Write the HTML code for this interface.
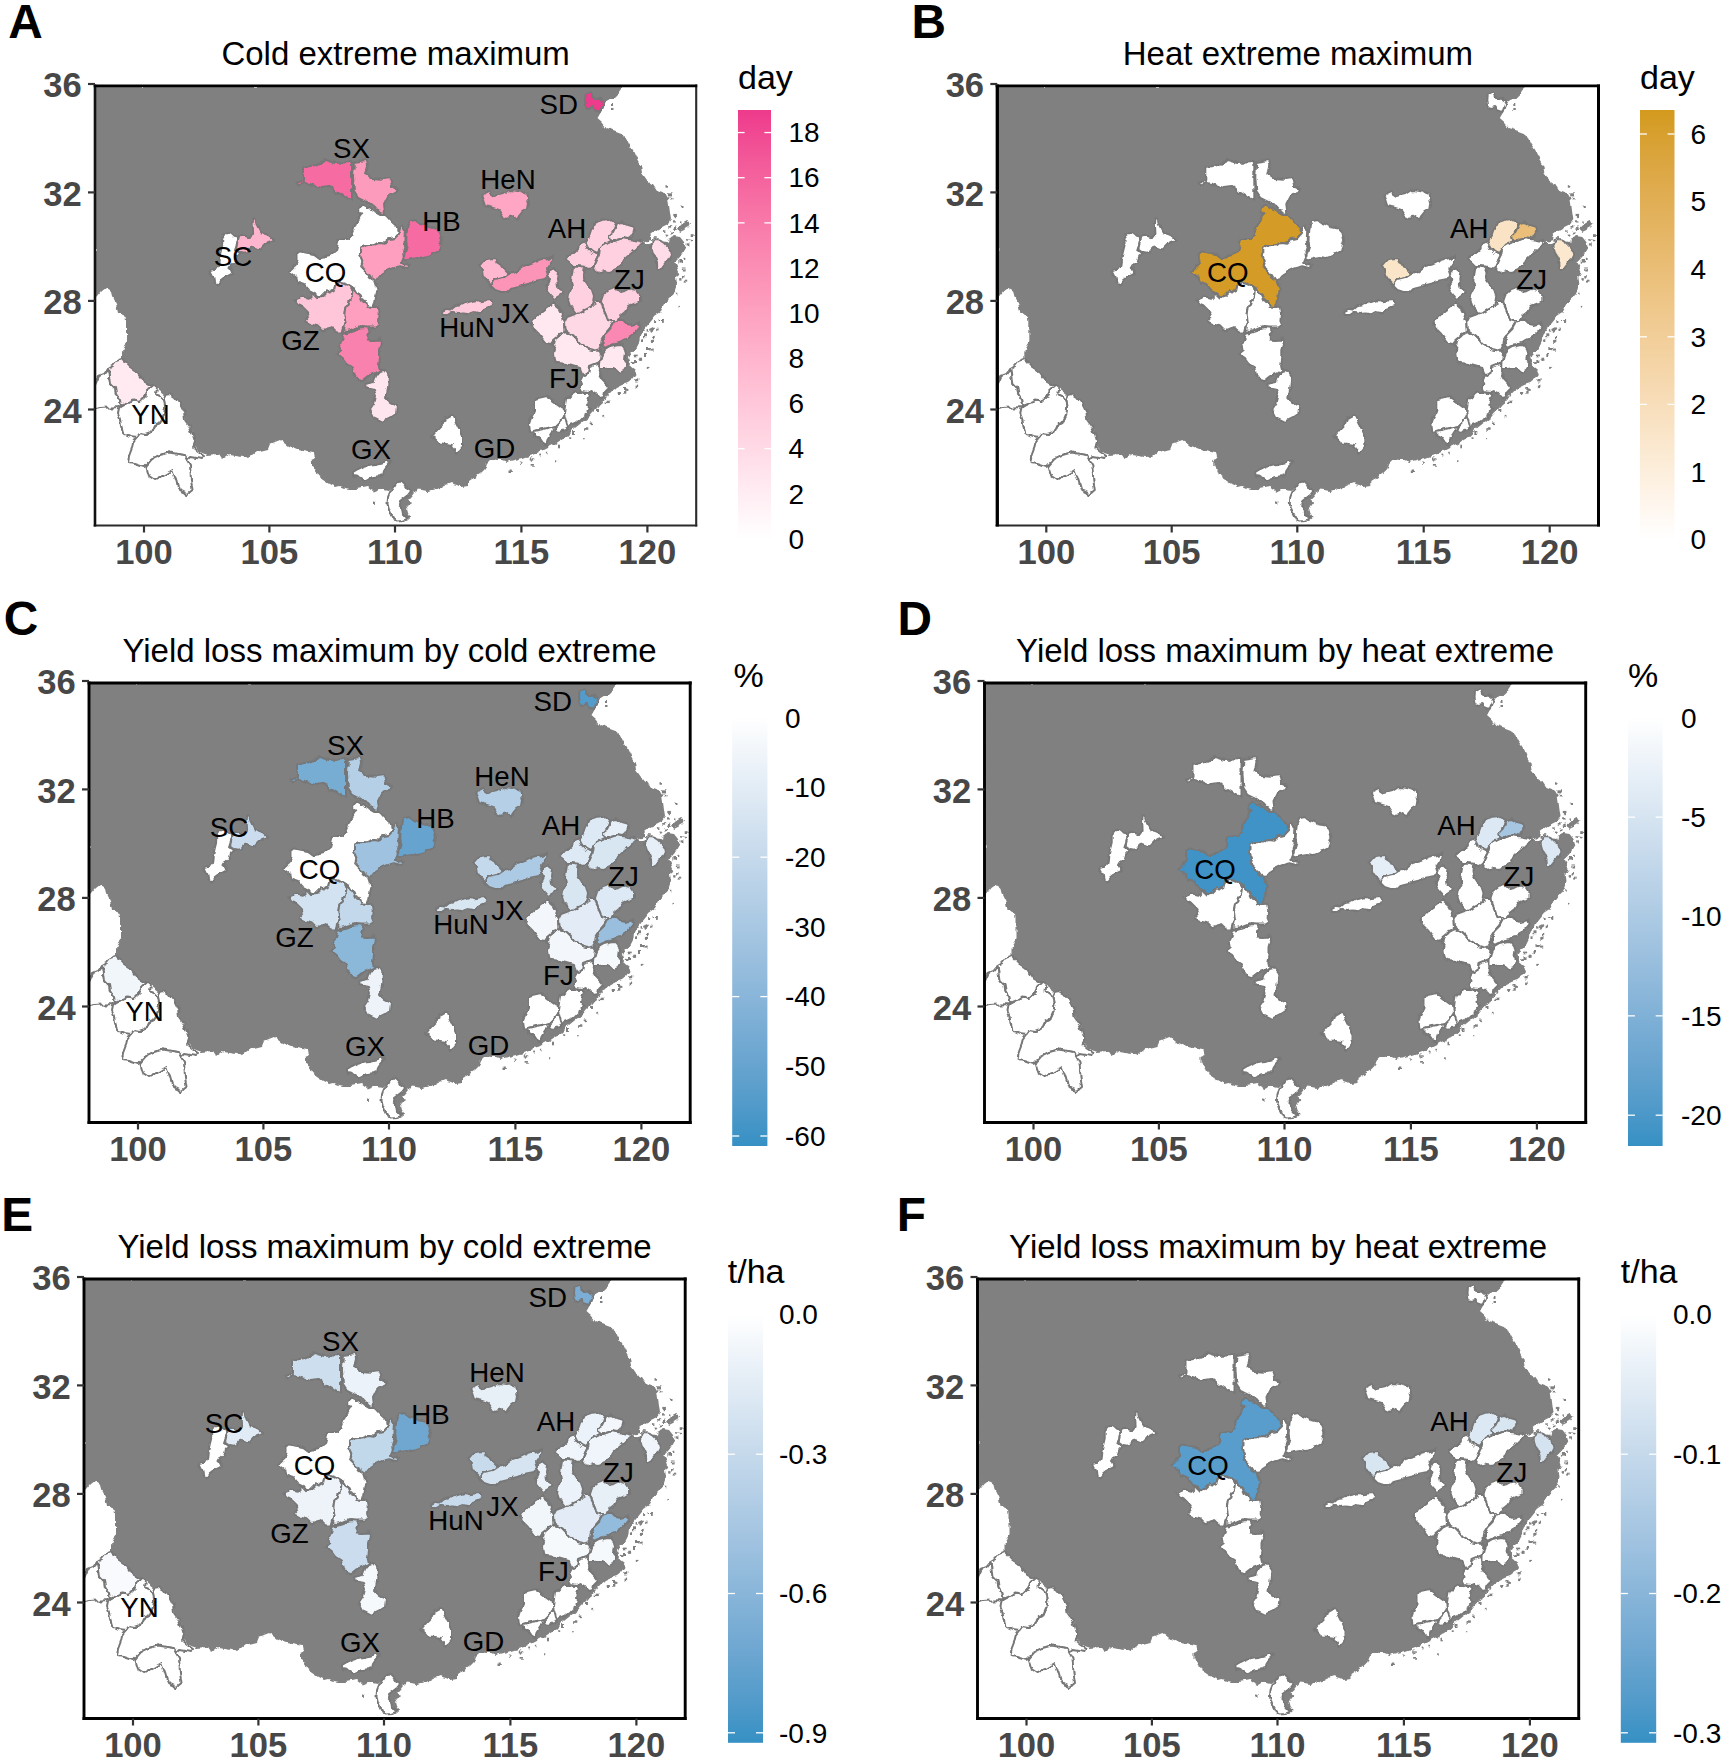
<!DOCTYPE html>
<html lang="en"><head><meta charset="utf-8"><title>Cold and heat extremes and yield loss maps</title>
<style>html,body{margin:0;padding:0;background:#fff}svg{display:block}text{font-family:'Liberation Sans', sans-serif}.ax{font-weight:bold;font-size:34.6px;fill:#474747}.ttl{font-size:33px;fill:#000}.let{font-weight:bold;font-size:47.8px;fill:#000}.lab{font-size:27.7px;fill:#000;text-anchor:middle}.cbt{font-size:34px;fill:#000}.cbl{font-size:28px;fill:#000}.pg polygon{stroke:#777;stroke-width:2;stroke-linejoin:round}</style></head><body>
<svg width="1725" height="1763" viewBox="0 0 1725 1763">
<defs>
<clipPath id="fr"><rect x="95" y="86" width="601.2" height="439.5"/></clipPath>
<g id="base"><polygon fill="#808080" points="95,86 622,86 622,88 617,95 614,98 608,100 604,103 601,112 597.5,118 602,122 607,128 616,131 624,134 628,143 633,150 637,159 641,166 642,173 647,180 653,184 657,190 665,193 668,198 669,205 670,213 671,220 668,224 662,227 656,231 651,235 648,240 644,243 648,243 651,242 656,240 661,240.5 666,242 669,244 670,238 674,236 680,237 684,242 685.5,248 682,254 678,259 675,262 677,266 679,272 676,277 677,284 675,290 672,296 668,300 664,305 661,311 655,315 651,320 647,325 644,330 640,335 639.5,342 636,349 631,353 628,359 630,365 635,369 636.5,374 633,379 628,383 622,385 616,388 612,391 608,395 605,400 602,405 597,408 593,412 589,417 584,421 579,425 574,429 567,436 561,440 555,444 549,447 543,450 535,454 529,456 523,458 515,460 507,462 502,460 496,460 491,459 487,463 485,469 480,474 474,478 468,482 468,486 462,487 458,485 450,483 445,485 440,488 433,490 427,491 422,490 417,489.5 415,492 412,496 409,499 412,502 411,505 408,506 406,509 407,513 409,516 406,517 403,514 402,508 399,505 400,501 404,498 408,495 411,491 408,489 405,484 402,481 399,480.5 396,484 393,488 389,491 384,490 380,490 375,492 371,490 367,487 362,488 357,489 350,489 345,488 340,486 336,487 330,484 318,476 316,470 310,466 310,460 315,458 314,453 298,450 288,446 280,440 270,444 268,449 256,452 248,458 242,456 230,454 222,460 218,454 208,455 202,453 193,447 194,440 192,430 186,420 184,412 176,400 166,396 156,388 150,386 142,382 135,372 129,368 122,360 122,352 126,340 126,322 125.5,316 118,313 116,303 113,297 112,293 110,291 105,288 101,291 97,296 95,298"/>
<polygon fill="#808080" points="678,228 682,224 687,221 691,223 689,227 684,230 680,232"/>
<polygon fill="#808080" points="673,230 675,226 677,230"/>
<polygon fill="#808080" points="686,239 693,240 693,241.5 686,240.5"/>
<polygon fill="#808080" points="373,501 376,502 376,505 373,504"/>
<polygon fill="#808080" points="611,104 613,104 613,106 611,106"/>
<polygon fill="#808080" points="611,108 613.5,108 613.5,110 611,110"/>
<polygon fill="#808080" points="681,261 683,261 683,263 681,263"/>
<polygon fill="#808080" points="682,275 684.5,275 684.5,277.5 682,277.5"/>
<polygon fill="#808080" points="650,329 654,327 655,329 651,332"/>
<polygon fill="#808080" points="641,340 644,339 644,342 641,343"/>
<polygon fill="#808080" points="646,347 649,347 649,350 646,350"/>
<polygon fill="#808080" points="644,353 647,353 647,356 644,356"/>
<polygon fill="#808080" points="634,359 637,359 637,362 634,362"/>
<polygon fill="#808080" points="623,387 626,387 626,390 623,390"/>
<polygon fill="#808080" points="595,410 598,410 598,413 595,413"/>
<polygon fill="#808080" points="573,431 576,431 576,434 573,434"/>
<rect x="665.5" y="185.2" width="2.5" height="2.5" fill="#808080"/>
<rect x="669.2" y="194.5" width="2.1" height="1.6" fill="#808080"/>
<rect x="667.9" y="193.3" width="3.6" height="3.1" fill="#808080"/>
<rect x="669.9" y="197.9" width="2.6" height="1.5" fill="#808080"/>
<rect x="681.0" y="205.7" width="2.5" height="2.6" fill="#808080"/>
<rect x="673.3" y="213.9" width="3.6" height="3.2" fill="#808080"/>
<rect x="674.8" y="216.3" width="1.9" height="1.9" fill="#808080"/>
<rect x="679.0" y="227.8" width="2.3" height="3.1" fill="#808080"/>
<rect x="672.6" y="221.3" width="3.4" height="2.2" fill="#808080"/>
<rect x="670.1" y="231.5" width="3.1" height="1.9" fill="#808080"/>
<rect x="662.9" y="230.4" width="1.6" height="1.5" fill="#808080"/>
<rect x="664.3" y="233.6" width="2.4" height="1.7" fill="#808080"/>
<rect x="665.6" y="234.3" width="1.7" height="2.2" fill="#808080"/>
<rect x="653.4" y="237.2" width="3.3" height="1.8" fill="#808080"/>
<rect x="650.1" y="239.0" width="3.6" height="1.8" fill="#808080"/>
<rect x="643.9" y="233.1" width="2.2" height="2.2" fill="#808080"/>
<rect x="644.3" y="233.8" width="3.3" height="1.7" fill="#808080"/>
<rect x="648.2" y="236.6" width="1.8" height="2.7" fill="#808080"/>
<rect x="642.2" y="227.4" width="3.3" height="2.5" fill="#808080"/>
<rect x="657.2" y="226.7" width="2.7" height="1.9" fill="#808080"/>
<rect x="668.7" y="238.4" width="3.4" height="1.8" fill="#808080"/>
<rect x="664.2" y="241.8" width="2.2" height="2.4" fill="#808080"/>
<rect x="668.2" y="226.2" width="2.9" height="2.5" fill="#808080"/>
<rect x="680.0" y="220.4" width="1.4" height="2.5" fill="#808080"/>
<rect x="690.7" y="233.2" width="2.9" height="2.8" fill="#808080"/>
<rect x="686.6" y="243.3" width="2.8" height="3.2" fill="#808080"/>
<rect x="678.4" y="261.0" width="3.4" height="2.6" fill="#808080"/>
<rect x="683.5" y="257.8" width="1.8" height="2.2" fill="#808080"/>
<rect x="682.9" y="268.5" width="2.7" height="2.0" fill="#808080"/>
<rect x="683.7" y="280.7" width="3.5" height="1.9" fill="#808080"/>
<rect x="679.2" y="277.1" width="2.3" height="2.5" fill="#808080"/>
<rect x="675.8" y="292.7" width="1.5" height="3.0" fill="#808080"/>
<rect x="678.5" y="304.9" width="1.4" height="1.6" fill="#808080"/>
<rect x="662.0" y="319.0" width="2.8" height="2.9" fill="#808080"/>
<rect x="658.7" y="319.6" width="1.8" height="1.4" fill="#808080"/>
<rect x="654.1" y="320.0" width="2.0" height="2.0" fill="#808080"/>
<rect x="656.2" y="328.7" width="2.3" height="2.8" fill="#808080"/>
<rect x="646.6" y="329.1" width="2.4" height="2.5" fill="#808080"/>
<rect x="650.8" y="339.8" width="3.2" height="3.1" fill="#808080"/>
<rect x="643.0" y="334.3" width="3.0" height="2.9" fill="#808080"/>
<rect x="652.1" y="335.9" width="3.6" height="3.2" fill="#808080"/>
<rect x="649.4" y="349.6" width="3.3" height="2.0" fill="#808080"/>
<rect x="639.2" y="359.5" width="2.5" height="1.5" fill="#808080"/>
<rect x="633.6" y="355.6" width="3.1" height="1.7" fill="#808080"/>
<rect x="640.2" y="357.7" width="2.9" height="3.1" fill="#808080"/>
<rect x="631.8" y="361.1" width="2.6" height="1.9" fill="#808080"/>
<rect x="646.8" y="366.9" width="2.6" height="2.0" fill="#808080"/>
<rect x="635.0" y="379.3" width="3.3" height="3.1" fill="#808080"/>
<rect x="635.6" y="384.6" width="2.5" height="2.5" fill="#808080"/>
<rect x="625.2" y="388.5" width="3.2" height="2.4" fill="#808080"/>
<rect x="624.0" y="390.6" width="2.3" height="3.1" fill="#808080"/>
<rect x="617.7" y="392.0" width="3.2" height="3.0" fill="#808080"/>
<rect x="606.7" y="400.7" width="3.1" height="1.4" fill="#808080"/>
<rect x="603.4" y="414.9" width="1.7" height="2.3" fill="#808080"/>
<rect x="589.7" y="422.5" width="2.6" height="1.7" fill="#808080"/>
<rect x="584.0" y="428.3" width="3.3" height="2.5" fill="#808080"/>
<rect x="582.7" y="438.2" width="2.1" height="2.0" fill="#808080"/>
<rect x="569.3" y="436.3" width="1.9" height="2.7" fill="#808080"/>
<rect x="557.0" y="444.7" width="2.3" height="2.6" fill="#808080"/>
<rect x="555.6" y="459.3" width="1.7" height="2.3" fill="#808080"/>
<rect x="545.9" y="451.8" width="1.6" height="1.6" fill="#808080"/>
<rect x="539.2" y="454.6" width="1.8" height="1.8" fill="#808080"/>
<rect x="529.7" y="457.4" width="1.5" height="3.1" fill="#808080"/>
<rect x="530.8" y="459.3" width="2.4" height="2.3" fill="#808080"/>
<rect x="530.6" y="465.0" width="3.3" height="1.7" fill="#808080"/>
<rect x="519.8" y="461.5" width="1.8" height="2.3" fill="#808080"/>
<rect x="509.5" y="470.5" width="3.3" height="2.5" fill="#808080"/>
</g>
<linearGradient id="gA" x1="0" y1="0" x2="0" y2="1"><stop offset="0" stop-color="#ee3a8c"/><stop offset="0.1" stop-color="#f25597"/><stop offset="0.2" stop-color="#f66ca2"/><stop offset="0.3" stop-color="#f981ad"/><stop offset="0.4" stop-color="#fc94b8"/><stop offset="0.5" stop-color="#fea6c4"/><stop offset="0.6" stop-color="#ffb8cf"/><stop offset="0.7" stop-color="#ffcadb"/><stop offset="0.8" stop-color="#ffdce7"/><stop offset="0.9" stop-color="#ffeef3"/><stop offset="1" stop-color="#ffffff"/></linearGradient>
<linearGradient id="gB" x1="0" y1="0" x2="0" y2="1"><stop offset="0" stop-color="#d39a1e"/><stop offset="0.1" stop-color="#daa43b"/><stop offset="0.2" stop-color="#e0ad52"/><stop offset="0.3" stop-color="#e6b768"/><stop offset="0.4" stop-color="#ecc17d"/><stop offset="0.5" stop-color="#f0cb93"/><stop offset="0.6" stop-color="#f5d5a8"/><stop offset="0.7" stop-color="#f8dfbd"/><stop offset="0.8" stop-color="#fbead3"/><stop offset="0.9" stop-color="#fef4e9"/><stop offset="1" stop-color="#ffffff"/></linearGradient>
<linearGradient id="gC" x1="0" y1="0" x2="0" y2="1"><stop offset="0" stop-color="#ffffff"/><stop offset="0.1" stop-color="#edf3f9"/><stop offset="0.2" stop-color="#dce8f3"/><stop offset="0.3" stop-color="#cadced"/><stop offset="0.4" stop-color="#b8d1e7"/><stop offset="0.5" stop-color="#a6c6e2"/><stop offset="0.6" stop-color="#93bbdc"/><stop offset="0.7" stop-color="#7fb0d6"/><stop offset="0.8" stop-color="#6aa5d0"/><stop offset="0.9" stop-color="#539bca"/><stop offset="1" stop-color="#3690c4"/></linearGradient>
<linearGradient id="gD" x1="0" y1="0" x2="0" y2="1"><stop offset="0" stop-color="#ffffff"/><stop offset="0.1" stop-color="#edf3f9"/><stop offset="0.2" stop-color="#dce8f3"/><stop offset="0.3" stop-color="#cadced"/><stop offset="0.4" stop-color="#b8d1e7"/><stop offset="0.5" stop-color="#a6c6e2"/><stop offset="0.6" stop-color="#93bbdc"/><stop offset="0.7" stop-color="#7fb0d6"/><stop offset="0.8" stop-color="#6aa5d0"/><stop offset="0.9" stop-color="#539bca"/><stop offset="1" stop-color="#3690c4"/></linearGradient>
<linearGradient id="gE" x1="0" y1="0" x2="0" y2="1"><stop offset="0" stop-color="#ffffff"/><stop offset="0.1" stop-color="#edf3f9"/><stop offset="0.2" stop-color="#dce8f3"/><stop offset="0.3" stop-color="#cadced"/><stop offset="0.4" stop-color="#b8d1e7"/><stop offset="0.5" stop-color="#a6c6e2"/><stop offset="0.6" stop-color="#93bbdc"/><stop offset="0.7" stop-color="#7fb0d6"/><stop offset="0.8" stop-color="#6aa5d0"/><stop offset="0.9" stop-color="#539bca"/><stop offset="1" stop-color="#3690c4"/></linearGradient>
<linearGradient id="gF" x1="0" y1="0" x2="0" y2="1"><stop offset="0" stop-color="#ffffff"/><stop offset="0.1" stop-color="#edf3f9"/><stop offset="0.2" stop-color="#dce8f3"/><stop offset="0.3" stop-color="#cadced"/><stop offset="0.4" stop-color="#b8d1e7"/><stop offset="0.5" stop-color="#a6c6e2"/><stop offset="0.6" stop-color="#93bbdc"/><stop offset="0.7" stop-color="#7fb0d6"/><stop offset="0.8" stop-color="#6aa5d0"/><stop offset="0.9" stop-color="#539bca"/><stop offset="1" stop-color="#3690c4"/></linearGradient>
<filter id="rough" x="0" y="0" width="100%" height="100%" filterUnits="userSpaceOnUse" primitiveUnits="userSpaceOnUse"><feTurbulence type="fractalNoise" baseFrequency="0.13" numOctaves="2" seed="7" result="n"/><feDisplacementMap in="SourceGraphic" in2="n" scale="5.5" xChannelSelector="R" yChannelSelector="G"/></filter>
</defs>
<rect width="1725" height="1763" fill="#fff"/>
<g transform="translate(0,0)">
<g clip-path="url(#fr)"><g filter="url(#rough)"><use href="#base"/><g class="pg">
<polygon fill="#ffffff" points="108,369 109,375 110,383 115,388 116,394 120,400 121,407 110,407.5 100,408 90,410 80,409 80,385 95,385 99,376 104,374"/>
<polygon fill="#ffffff" points="137,437 140,433 146,434 152,432 155,425 160,423 164,414 165,406 164,400 166,396 170,395 175,398 180,404 184,412 185,420 190,427 193,435 195,442 193,448 198,452 204,456 203,459 196,458 190,457 187,460 184,455 178,454 169,452.5 160,455 152,459 147,464 144,467 135,464 128,463 129,456 132,448 133,442"/>
<polygon fill="#ffffff" points="146,466 152,459 160,455 169,452.5 178,454 184,455 187,460 190,465 191,480 192.5,490 187.5,494 179,490 176,480 172.5,470 162.5,476 155,480 149,476"/>
<polygon fill="#ffffff" points="121,407 128,403 134,400.5 139,402 144.5,397 148,390 152,385 156,388 155,394 160,396 164,400 165,406 164,414 160,423 155,425 152,432 146,434 140,433 137,437 130,436 123,433 121,426 120,419 118,414 119,409"/>
<polygon fill="#ffeaf1" points="122.5,359 130,367 136,371 143,381 150.5,385.2 153,385.5 148,390 144.5,397 139,402 134,400.5 128,403 121,406 120,400 116,394 115,388 110,383 109,375 108,369 113,366 117,361"/>
<polygon fill="#ffffff" points="399,480.5 396,484 393,489 390,492 388,497 387.5,504 389,510 392,516 394,520 397,521.5 402,521 406,519.5 409,517 406,517 403,514 402,508 399,505 400,501 404,498 408,495 411,491 408,489 405,484 402,481"/>
<polygon fill="#ffffff" points="353,472 358,469 364,466 370,464.5 376,464 382,462.5 387,461 391,460.5 389,465 386,468 384,471 383,475 380,476 374,477 369,478.5 365,480.5 362,479 358,476.5 353,476"/>
<polygon fill="#ffffff" points="452,414 455,420 459,428 463,436 463,446 460,450 456,453 454,449 451,445 445,444 438,443 435,440 431,437 437,430 443,424 445,418"/>
<polygon fill="#ffffff" points="538,398 547,396 555,402 563,408 565,414 561,420 555,426 547,428 535,431 530,432 529,424 531,418 535,410 535,402"/>
<polygon fill="#ffffff" points="535,431 547,428 555,426 553,432 549,438 547,446 543,444 539,438 535,436"/>
<polygon fill="#ffffff" points="555,426 561,420 565,415 569,428 565,430 559,432 555,430"/>
<polygon fill="#ffffff" points="566,400 570,396 576,392 582,392 587,393 590,395 588,400 587,405 590,409 588,413 584,416 580,420 576,423 571,425 568,428 566,420 564,413 565,406"/>
<polygon fill="#ffffff" points="588,374 589,367 594,365 599,364 600,369 599,375 602,380 606,384 609,388 605,392 604,397 600,398 596,393 592,391 587,393 582,392 580,388 582,384 580,380 582,376"/>
<polygon fill="#ffe8ef" points="605,350 610,347 616,345.5 622,345 625,349 626,354 625,360 627,365 624,370 620,372 617,369 612,368 605,369 600,369 600,364 601,357 602.5,353"/>
<polygon fill="#ffe8ef" points="553,340 558,336 564,333 568,332 573,335 577,339 580,343 585,346 590,350 596,351.5 601,352 600,358 599,363 594,365 589,367 588,374 585,376 582,373 580,368 573,366 566,364 559,363 555,360 554,354 555,348 552,344"/>
<polygon fill="#ffe8ef" points="531,322 539,314 547,308 554,303 560,308 563,314 562,319 564,323 564.5,329 564,333 558,336 553,340 550,344 546,343 542,338 539,334 535,330"/>
<polygon fill="#ffd8e5" points="567,317 575,314 583,309 591,305 596,302 601,302 603,308 606,315 608,320 614,321.5 610,328 605,334 601,340 600,345 601,350 596,351.5 590,350 585,346 580,343 577,339 573,335 568,332 564.5,329 564,323"/>
<polygon fill="#fb88b2" points="614,321.5 619,320 623,320 627,324 632,325 639,323 640,327 636,332 632,336 627,339 623,340 619,343 614,345 609,346 605,348 602,345 601.5,340 605,334 610,329"/>
<polygon fill="#ffd0df" points="604,294 609,290 615,288 620,292 625,291 630,288.5 636,290 640,296 640,301 635,304 628,307 625,312 620,316 618,320 614,321.5 608,320 606,315 603,308 602,300"/>
<polygon fill="#ffd0df" points="573,267 578,266.5 584,267.5 583,273 584,279 588,285 592,290 594,296 593,302 591,307 585,310 579,314 575,312 570,306 568,300 569,294 572,288 571,280 572,273"/>
<polygon fill="#ffd3e1" points="550,270 555,268 558,273 557,280 558,287 563,290 564,293 559,296 554,299 551,295 547,290 546,286 549,280 548,275"/>
<polygon fill="#ffd0df" points="581,244 585,242 588,248 592,252 596,254 599,254 596,260 594,265 589,268 584,266.5 578,266 573,266 569,262 565,259 570,255 575,252 579,248"/>
<polygon fill="#ffd0df" points="600,249 604,244 610,241 614,241 618,239.5 623,238 628,239 635,240 641,241 643,244 638,247 633,252 628,256 624,260 621,266 616,269 610,272 604,271 599,273 595,270 593,267 596,260 599,254"/>
<polygon fill="#ffd0df" points="596,222 602,220 609,219 616,223 614.5,229 612,234 609,237 610,241 604,244 600,249 596,254 592,252 588,248 585,242 589,236 591,230 594,226"/>
<polygon fill="#ffdae6" points="617,223.5 622,222 627,225 634,227 635,231 632,236 628,239 623,238 618,239.5 614,241 610,241 609,237 612,234 614.5,229"/>
<polygon fill="#ffdce7" points="651,243 655,240 660,240.5 664,243 668,247 671,251 672,255 670,259 666,262 663,266 660,270 657.5,268 657,263 655,258 653,253 651.5,248"/>
<polygon fill="#ffb8cf" points="480,266 485,260 493,259 501,264 505,270 509,274 503,278 495,280 491,286 487,282 483,276 482,270"/>
<polygon fill="#fc94b8" points="491,286 495,280 503,278 509,274 515,272 523,266 531,264 539,260 547,258 553,256 551,262 547,268 549,274 545,280 535,282 527,284 519,286 511,288 507,292 501,292 495,290"/>
<polygon fill="#ffcadb" points="441.9,311.2 446.2,308.8 451.2,309.4 455,306.2 460,305 465,302.5 471.2,301.2 475,300 480,301.2 486.2,300.6 491.2,300 492.5,303.8 490,307.5 485,309.4 480,313.1 475,311.9 470,313.8 463.8,312.5 458.8,313.1 452.5,311.9 447.5,315 442.5,315"/>
<polygon fill="#fea6c4" points="481,196 489,192 495,196 503,194 509,190 519,191 527,194 529,202 528,208 523,211 519,216 517,220 513,216 507,218 503,216 499,210 493,208 485,206 483,200"/>
<polygon fill="#ee3a8c" points="585.5,94.5 590,92 593,94 594,98 600,99 604,102 602,107 600,112 595,110 593,107 589,108 586,107 585,100"/>
<polygon fill="#ffffff" points="225.5,233.3 230.3,232.9 233.6,235.7 236.8,236.5 238,240.6 236.8,245.5 235.2,249.5 238.4,251.9 240.1,253.6 236.8,256.8 235.2,261.7 231.9,264.9 229.5,269 231.9,273.9 227.9,275.9 223.8,277.9 220.6,280.4 217.3,284.8 214.1,282 213.3,277.1 210.4,271.4 214.9,269.8 218.1,264.9 219,258.4 220.6,251.9 222.2,245.5 222.2,239 223.8,234.9"/>
<polygon fill="#ffb5cd" points="238,240.6 239.3,236.5 244.9,235.7 249,237.3 251.8,235.7 253.1,232.5 252.6,224.4 253.1,219.5 255.5,219.5 256.3,223.5 259.5,230 262,233.3 266,234.1 269.3,235.7 274.2,239.8 270.9,240.6 266.9,242.2 263.6,246.3 260.4,249.5 257.1,248.7 253.1,247.1 249.8,247.9 246.6,251.9 243.3,252.8 240.1,251.9 238.4,250.3 236,248.7 236.8,245.5"/>
<polygon fill="#f66ca2" points="297,183 304,180 304,167 316,165 326,160 336,163 352,162 352,200 344,197 336,192 330,187 320,188 310,184 304,183 298,186"/>
<polygon fill="#fd9bbd" points="354,162 367,160 368,166 366,174 372,178 384,179 390,178 392,186 398,189 394,194 388,196 384,204 385,214 380,213 374,206 366,202 358,198 354,192 353,176"/>
<polygon fill="#ffffff" points="361.9,203.8 367.5,206.9 375,211.9 380,215 386.2,215.6 392.5,222.5 398.1,227.5 398.8,233.8 395,238.1 388.8,239.4 383.8,243.8 378.8,243.1 372.5,245.6 366.2,245 360,248.1 360,255 362.5,261.2 361.2,266.2 366.2,271.2 370,277.5 375,281.2 377.5,288.8 376.2,296.2 375,302.5 373.1,308.1 367.5,307.5 366.2,302.5 361.2,300 358.8,295 355,288.8 350,286.2 343.8,283.8 338.8,283.1 335,285 333.8,290 328.8,292.5 326.2,291.2 321.2,296.2 317.5,297.5 313.8,292.5 308.8,290 305,285 297.5,282.5 296.2,277.5 288.8,271.9 293.8,267.5 297.5,260 297.5,251.2 305,252.5 313.8,253.8 318.8,257.5 330,255 336.2,250 338.8,240 348.8,238.8 353.8,227.5 356.2,221.2 361.2,213.8 358.8,210"/>
<polygon fill="#fe9fbf" points="360,248.1 366.2,245 372.5,245.6 378.8,243.1 383.8,243.8 388.8,239.4 395,238.1 398.8,233.8 400.6,227.5 403.1,226.2 405,231.2 404.4,240 405,246.2 403.1,252.5 403.8,257.5 401.9,261.9 405,263.8 410,265.6 407.5,268.1 400,266.2 392.5,268.1 386.2,271.2 380,275 376.2,280 375,281.2 370,277.5 366.2,271.2 361.2,266.2 362.5,261.2 360,255"/>
<polygon fill="#f66ca2" points="410,221.2 415,220 418.8,222.5 423.8,224.4 430,227.5 436.2,228.8 440,232.5 441.9,240 440,246.2 438.8,251.2 433.8,253.8 427.5,256.9 423.8,258.1 417.5,256.9 411.2,258.1 406.2,259.4 403.8,257.5 405,252.5 406.9,246.2 406.2,240 406.9,231.2 407.5,226.2"/>
<polygon fill="#ffc5d8" points="294.4,300 301.2,296.9 308.8,298.8 313.8,293.8 317.5,297.5 321.2,296.2 326.2,291.2 328.8,292.5 333.8,290 335,285 338.8,283.1 343.8,283.8 350,286.2 352.5,290 351.9,296.2 349.4,300 348.8,303.8 345.6,306.2 344.4,315 345.6,322.5 343.8,327.5 342.5,332.5 337.5,332.5 332.5,328.1 327.5,329.4 322.5,331.2 317.5,326.2 311.2,324.4 304.4,321.2 308.8,316.2 306.9,311.2 301.9,306.2 298.8,305"/>
<polygon fill="#fe9fbf" points="352.5,290 355,288.8 358.8,295 361.2,300 366.2,302.5 367.5,307.5 373.1,308.1 377.5,306.2 378.8,313.8 378.1,320 380,324.4 375,327.5 367.5,327.5 361.2,326.9 355,329.4 347.5,331.9 343.8,331.2 345.6,322.5 344.4,315 345.6,306.2 348.8,303.8 349.4,300 351.9,296.2"/>
<polygon fill="#f981ad" points="343.8,333.8 347.5,333.1 355,330.6 361.2,328.1 367.5,328.8 370,331.2 367.5,335 367.5,339.4 373.8,340 380,339.4 381.9,343.8 380,350 380,357.5 378.8,365 380,370 375,373.8 367.5,376.2 361.2,381.2 357.5,380 353.8,375 351.9,367.5 346.2,363.8 342.5,358.8 336.2,355 341.2,351.2 340,343.8 342.5,338.8"/>
<polygon fill="#ffe5ed" points="384,370 389,376 388,388 386,398 390,402 397,406 396,414 390,418 382,422 374,418 370,410 374,404 376,396 374,390 365,388 364,384 374,382 376,376 380,371"/>
</g></g>
<text class="lab" x="558.75" y="114">SD</text>
<text class="lab" x="351.5" y="157.5">SX</text>
<text class="lab" x="508" y="188.5">HeN</text>
<text class="lab" x="441.5" y="231">HB</text>
<text class="lab" x="567" y="237.5">AH</text>
<text class="lab" x="233" y="266">SC</text>
<text class="lab" x="325.5" y="281.5">CQ</text>
<text class="lab" x="629.5" y="288.5">ZJ</text>
<text class="lab" x="300.5" y="350">GZ</text>
<text class="lab" x="467" y="336.5">HuN</text>
<text class="lab" x="513.5" y="322.5">JX</text>
<text class="lab" x="564.5" y="387.5">FJ</text>
<text class="lab" x="150.5" y="423.5">YN</text>
<text class="lab" x="371" y="458.5">GX</text>
<text class="lab" x="494.5" y="457.5">GD</text>
</g>
<line x1="93.7" y1="525.5" x2="697.25" y2="525.5" stroke="#2b2b2b" stroke-width="2.1"/>
<line x1="696.2" y1="84.55" x2="696.2" y2="526.55" stroke="#2b2b2b" stroke-width="2.1"/>
<line x1="95" y1="84.55" x2="95" y2="526.55" stroke="#111" stroke-width="2.6"/>
<line x1="93.7" y1="85.9" x2="697.25" y2="85.9" stroke="#000" stroke-width="2.9"/>
<line x1="88" y1="84" x2="95" y2="84" stroke="#333" stroke-width="2.2"/>
<text class="ax" x="81.8" y="97.2" text-anchor="end">36</text>
<line x1="88" y1="192.4" x2="95" y2="192.4" stroke="#333" stroke-width="2.2"/>
<text class="ax" x="81.8" y="205.6" text-anchor="end">32</text>
<line x1="88" y1="300.9" x2="95" y2="300.9" stroke="#333" stroke-width="2.2"/>
<text class="ax" x="81.8" y="314.1" text-anchor="end">28</text>
<line x1="88" y1="409.5" x2="95" y2="409.5" stroke="#333" stroke-width="2.2"/>
<text class="ax" x="81.8" y="422.7" text-anchor="end">24</text>
<line x1="144" y1="525.5" x2="144" y2="532.5" stroke="#333" stroke-width="2.2"/>
<text class="ax" x="144" y="564" text-anchor="middle">100</text>
<line x1="269.4" y1="525.5" x2="269.4" y2="532.5" stroke="#333" stroke-width="2.2"/>
<text class="ax" x="269.4" y="564" text-anchor="middle">105</text>
<line x1="395" y1="525.5" x2="395" y2="532.5" stroke="#333" stroke-width="2.2"/>
<text class="ax" x="395" y="564" text-anchor="middle">110</text>
<line x1="521.4" y1="525.5" x2="521.4" y2="532.5" stroke="#333" stroke-width="2.2"/>
<text class="ax" x="521.4" y="564" text-anchor="middle">115</text>
<line x1="647.4" y1="525.5" x2="647.4" y2="532.5" stroke="#333" stroke-width="2.2"/>
<text class="ax" x="647.4" y="564" text-anchor="middle">120</text>
</g>
<text class="let" x="8.2" y="37.8">A</text>
<text class="ttl" x="395.6" y="65.2" text-anchor="middle">Cold extreme maximum</text>
<rect x="738" y="110" width="33" height="429" fill="url(#gA)"/>
<text class="cbt" x="738" y="88.9">day</text>
<text class="cbl" x="788.4" y="548.7">0</text>
<text class="cbl" x="788.4" y="503.54">2</text>
<line x1="738" y1="448.68" x2="744.6" y2="448.68" stroke="#fff" stroke-width="1.3"/>
<line x1="764.4" y1="448.68" x2="771" y2="448.68" stroke="#fff" stroke-width="1.3"/>
<text class="cbl" x="788.4" y="458.38">4</text>
<text class="cbl" x="788.4" y="413.22">6</text>
<text class="cbl" x="788.4" y="368.06">8</text>
<text class="cbl" x="788.4" y="322.9">10</text>
<text class="cbl" x="788.4" y="277.74">12</text>
<line x1="738" y1="222.88" x2="744.6" y2="222.88" stroke="#fff" stroke-width="1.3"/>
<line x1="764.4" y1="222.88" x2="771" y2="222.88" stroke="#fff" stroke-width="1.3"/>
<text class="cbl" x="788.4" y="232.58">14</text>
<line x1="738" y1="177.72" x2="744.6" y2="177.72" stroke="#fff" stroke-width="1.3"/>
<line x1="764.4" y1="177.72" x2="771" y2="177.72" stroke="#fff" stroke-width="1.3"/>
<text class="cbl" x="788.4" y="187.42">16</text>
<line x1="738" y1="132.56" x2="744.6" y2="132.56" stroke="#fff" stroke-width="1.3"/>
<line x1="764.4" y1="132.56" x2="771" y2="132.56" stroke="#fff" stroke-width="1.3"/>
<text class="cbl" x="788.4" y="142.26">18</text>
<g transform="translate(902.3,0)">
<g clip-path="url(#fr)"><g filter="url(#rough)"><use href="#base"/><g class="pg">
<polygon fill="#ffffff" points="108,369 109,375 110,383 115,388 116,394 120,400 121,407 110,407.5 100,408 90,410 80,409 80,385 95,385 99,376 104,374"/>
<polygon fill="#ffffff" points="137,437 140,433 146,434 152,432 155,425 160,423 164,414 165,406 164,400 166,396 170,395 175,398 180,404 184,412 185,420 190,427 193,435 195,442 193,448 198,452 204,456 203,459 196,458 190,457 187,460 184,455 178,454 169,452.5 160,455 152,459 147,464 144,467 135,464 128,463 129,456 132,448 133,442"/>
<polygon fill="#ffffff" points="146,466 152,459 160,455 169,452.5 178,454 184,455 187,460 190,465 191,480 192.5,490 187.5,494 179,490 176,480 172.5,470 162.5,476 155,480 149,476"/>
<polygon fill="#ffffff" points="121,407 128,403 134,400.5 139,402 144.5,397 148,390 152,385 156,388 155,394 160,396 164,400 165,406 164,414 160,423 155,425 152,432 146,434 140,433 137,437 130,436 123,433 121,426 120,419 118,414 119,409"/>
<polygon fill="#ffffff" points="122.5,359 130,367 136,371 143,381 150.5,385.2 153,385.5 148,390 144.5,397 139,402 134,400.5 128,403 121,406 120,400 116,394 115,388 110,383 109,375 108,369 113,366 117,361"/>
<polygon fill="#ffffff" points="399,480.5 396,484 393,489 390,492 388,497 387.5,504 389,510 392,516 394,520 397,521.5 402,521 406,519.5 409,517 406,517 403,514 402,508 399,505 400,501 404,498 408,495 411,491 408,489 405,484 402,481"/>
<polygon fill="#ffffff" points="353,472 358,469 364,466 370,464.5 376,464 382,462.5 387,461 391,460.5 389,465 386,468 384,471 383,475 380,476 374,477 369,478.5 365,480.5 362,479 358,476.5 353,476"/>
<polygon fill="#ffffff" points="452,414 455,420 459,428 463,436 463,446 460,450 456,453 454,449 451,445 445,444 438,443 435,440 431,437 437,430 443,424 445,418"/>
<polygon fill="#ffffff" points="538,398 547,396 555,402 563,408 565,414 561,420 555,426 547,428 535,431 530,432 529,424 531,418 535,410 535,402"/>
<polygon fill="#ffffff" points="535,431 547,428 555,426 553,432 549,438 547,446 543,444 539,438 535,436"/>
<polygon fill="#ffffff" points="555,426 561,420 565,415 569,428 565,430 559,432 555,430"/>
<polygon fill="#ffffff" points="566,400 570,396 576,392 582,392 587,393 590,395 588,400 587,405 590,409 588,413 584,416 580,420 576,423 571,425 568,428 566,420 564,413 565,406"/>
<polygon fill="#ffffff" points="588,374 589,367 594,365 599,364 600,369 599,375 602,380 606,384 609,388 605,392 604,397 600,398 596,393 592,391 587,393 582,392 580,388 582,384 580,380 582,376"/>
<polygon fill="#ffffff" points="605,350 610,347 616,345.5 622,345 625,349 626,354 625,360 627,365 624,370 620,372 617,369 612,368 605,369 600,369 600,364 601,357 602.5,353"/>
<polygon fill="#ffffff" points="553,340 558,336 564,333 568,332 573,335 577,339 580,343 585,346 590,350 596,351.5 601,352 600,358 599,363 594,365 589,367 588,374 585,376 582,373 580,368 573,366 566,364 559,363 555,360 554,354 555,348 552,344"/>
<polygon fill="#ffffff" points="531,322 539,314 547,308 554,303 560,308 563,314 562,319 564,323 564.5,329 564,333 558,336 553,340 550,344 546,343 542,338 539,334 535,330"/>
<polygon fill="#ffffff" points="567,317 575,314 583,309 591,305 596,302 601,302 603,308 606,315 608,320 614,321.5 610,328 605,334 601,340 600,345 601,350 596,351.5 590,350 585,346 580,343 577,339 573,335 568,332 564.5,329 564,323"/>
<polygon fill="#ffffff" points="614,321.5 619,320 623,320 627,324 632,325 639,323 640,327 636,332 632,336 627,339 623,340 619,343 614,345 609,346 605,348 602,345 601.5,340 605,334 610,329"/>
<polygon fill="#ffffff" points="604,294 609,290 615,288 620,292 625,291 630,288.5 636,290 640,296 640,301 635,304 628,307 625,312 620,316 618,320 614,321.5 608,320 606,315 603,308 602,300"/>
<polygon fill="#ffffff" points="573,267 578,266.5 584,267.5 583,273 584,279 588,285 592,290 594,296 593,302 591,307 585,310 579,314 575,312 570,306 568,300 569,294 572,288 571,280 572,273"/>
<polygon fill="#ffffff" points="550,270 555,268 558,273 557,280 558,287 563,290 564,293 559,296 554,299 551,295 547,290 546,286 549,280 548,275"/>
<polygon fill="#ffffff" points="581,244 585,242 588,248 592,252 596,254 599,254 596,260 594,265 589,268 584,266.5 578,266 573,266 569,262 565,259 570,255 575,252 579,248"/>
<polygon fill="#ffffff" points="600,249 604,244 610,241 614,241 618,239.5 623,238 628,239 635,240 641,241 643,244 638,247 633,252 628,256 624,260 621,266 616,269 610,272 604,271 599,273 595,270 593,267 596,260 599,254"/>
<polygon fill="#f9e3c4" points="596,222 602,220 609,219 616,223 614.5,229 612,234 609,237 610,241 604,244 600,249 596,254 592,252 588,248 585,242 589,236 591,230 594,226"/>
<polygon fill="#ebbf79" points="617,223.5 622,222 627,225 634,227 635,231 632,236 628,239 623,238 618,239.5 614,241 610,241 609,237 612,234 614.5,229"/>
<polygon fill="#fbe8cf" points="651,243 655,240 660,240.5 664,243 668,247 671,251 672,255 670,259 666,262 663,266 660,270 657.5,268 657,263 655,258 653,253 651.5,248"/>
<polygon fill="#fae5c8" points="480,266 485,260 493,259 501,264 505,270 509,274 503,278 495,280 491,286 487,282 483,276 482,270"/>
<polygon fill="#ffffff" points="491,286 495,280 503,278 509,274 515,272 523,266 531,264 539,260 547,258 553,256 551,262 547,268 549,274 545,280 535,282 527,284 519,286 511,288 507,292 501,292 495,290"/>
<polygon fill="#ffffff" points="441.9,311.2 446.2,308.8 451.2,309.4 455,306.2 460,305 465,302.5 471.2,301.2 475,300 480,301.2 486.2,300.6 491.2,300 492.5,303.8 490,307.5 485,309.4 480,313.1 475,311.9 470,313.8 463.8,312.5 458.8,313.1 452.5,311.9 447.5,315 442.5,315"/>
<polygon fill="#ffffff" points="481,196 489,192 495,196 503,194 509,190 519,191 527,194 529,202 528,208 523,211 519,216 517,220 513,216 507,218 503,216 499,210 493,208 485,206 483,200"/>
<polygon fill="#ffffff" points="585.5,94.5 590,92 593,94 594,98 600,99 604,102 602,107 600,112 595,110 593,107 589,108 586,107 585,100"/>
<polygon fill="#ffffff" points="225.5,233.3 230.3,232.9 233.6,235.7 236.8,236.5 238,240.6 236.8,245.5 235.2,249.5 238.4,251.9 240.1,253.6 236.8,256.8 235.2,261.7 231.9,264.9 229.5,269 231.9,273.9 227.9,275.9 223.8,277.9 220.6,280.4 217.3,284.8 214.1,282 213.3,277.1 210.4,271.4 214.9,269.8 218.1,264.9 219,258.4 220.6,251.9 222.2,245.5 222.2,239 223.8,234.9"/>
<polygon fill="#ffffff" points="238,240.6 239.3,236.5 244.9,235.7 249,237.3 251.8,235.7 253.1,232.5 252.6,224.4 253.1,219.5 255.5,219.5 256.3,223.5 259.5,230 262,233.3 266,234.1 269.3,235.7 274.2,239.8 270.9,240.6 266.9,242.2 263.6,246.3 260.4,249.5 257.1,248.7 253.1,247.1 249.8,247.9 246.6,251.9 243.3,252.8 240.1,251.9 238.4,250.3 236,248.7 236.8,245.5"/>
<polygon fill="#ffffff" points="297,183 304,180 304,167 316,165 326,160 336,163 352,162 352,200 344,197 336,192 330,187 320,188 310,184 304,183 298,186"/>
<polygon fill="#ffffff" points="354,162 367,160 368,166 366,174 372,178 384,179 390,178 392,186 398,189 394,194 388,196 384,204 385,214 380,213 374,206 366,202 358,198 354,192 353,176"/>
<polygon fill="#d49c25" points="361.9,203.8 367.5,206.9 375,211.9 380,215 386.2,215.6 392.5,222.5 398.1,227.5 398.8,233.8 395,238.1 388.8,239.4 383.8,243.8 378.8,243.1 372.5,245.6 366.2,245 360,248.1 360,255 362.5,261.2 361.2,266.2 366.2,271.2 370,277.5 375,281.2 377.5,288.8 376.2,296.2 375,302.5 373.1,308.1 367.5,307.5 366.2,302.5 361.2,300 358.8,295 355,288.8 350,286.2 343.8,283.8 338.8,283.1 335,285 333.8,290 328.8,292.5 326.2,291.2 321.2,296.2 317.5,297.5 313.8,292.5 308.8,290 305,285 297.5,282.5 296.2,277.5 288.8,271.9 293.8,267.5 297.5,260 297.5,251.2 305,252.5 313.8,253.8 318.8,257.5 330,255 336.2,250 338.8,240 348.8,238.8 353.8,227.5 356.2,221.2 361.2,213.8 358.8,210"/>
<polygon fill="#ffffff" points="360,248.1 366.2,245 372.5,245.6 378.8,243.1 383.8,243.8 388.8,239.4 395,238.1 398.8,233.8 400.6,227.5 403.1,226.2 405,231.2 404.4,240 405,246.2 403.1,252.5 403.8,257.5 401.9,261.9 405,263.8 410,265.6 407.5,268.1 400,266.2 392.5,268.1 386.2,271.2 380,275 376.2,280 375,281.2 370,277.5 366.2,271.2 361.2,266.2 362.5,261.2 360,255"/>
<polygon fill="#ffffff" points="410,221.2 415,220 418.8,222.5 423.8,224.4 430,227.5 436.2,228.8 440,232.5 441.9,240 440,246.2 438.8,251.2 433.8,253.8 427.5,256.9 423.8,258.1 417.5,256.9 411.2,258.1 406.2,259.4 403.8,257.5 405,252.5 406.9,246.2 406.2,240 406.9,231.2 407.5,226.2"/>
<polygon fill="#ffffff" points="294.4,300 301.2,296.9 308.8,298.8 313.8,293.8 317.5,297.5 321.2,296.2 326.2,291.2 328.8,292.5 333.8,290 335,285 338.8,283.1 343.8,283.8 350,286.2 352.5,290 351.9,296.2 349.4,300 348.8,303.8 345.6,306.2 344.4,315 345.6,322.5 343.8,327.5 342.5,332.5 337.5,332.5 332.5,328.1 327.5,329.4 322.5,331.2 317.5,326.2 311.2,324.4 304.4,321.2 308.8,316.2 306.9,311.2 301.9,306.2 298.8,305"/>
<polygon fill="#ffffff" points="352.5,290 355,288.8 358.8,295 361.2,300 366.2,302.5 367.5,307.5 373.1,308.1 377.5,306.2 378.8,313.8 378.1,320 380,324.4 375,327.5 367.5,327.5 361.2,326.9 355,329.4 347.5,331.9 343.8,331.2 345.6,322.5 344.4,315 345.6,306.2 348.8,303.8 349.4,300 351.9,296.2"/>
<polygon fill="#ffffff" points="343.8,333.8 347.5,333.1 355,330.6 361.2,328.1 367.5,328.8 370,331.2 367.5,335 367.5,339.4 373.8,340 380,339.4 381.9,343.8 380,350 380,357.5 378.8,365 380,370 375,373.8 367.5,376.2 361.2,381.2 357.5,380 353.8,375 351.9,367.5 346.2,363.8 342.5,358.8 336.2,355 341.2,351.2 340,343.8 342.5,338.8"/>
<polygon fill="#ffffff" points="384,370 389,376 388,388 386,398 390,402 397,406 396,414 390,418 382,422 374,418 370,410 374,404 376,396 374,390 365,388 364,384 374,382 376,376 380,371"/>
</g></g>
<text class="lab" x="325.5" y="281.5">CQ</text>
<text class="lab" x="567" y="237.5">AH</text>
<text class="lab" x="629.5" y="288.5">ZJ</text>
</g>
<line x1="93.35" y1="525.5" x2="697.7" y2="525.5" stroke="#2b2b2b" stroke-width="2.2"/>
<line x1="696.2" y1="84.55" x2="696.2" y2="526.6" stroke="#000" stroke-width="3"/>
<line x1="95" y1="84.55" x2="95" y2="526.6" stroke="#000" stroke-width="3.3"/>
<line x1="93.35" y1="85.9" x2="697.7" y2="85.9" stroke="#000" stroke-width="2.9"/>
<line x1="88" y1="84" x2="95" y2="84" stroke="#333" stroke-width="2.2"/>
<text class="ax" x="81.8" y="97.2" text-anchor="end">36</text>
<line x1="88" y1="192.4" x2="95" y2="192.4" stroke="#333" stroke-width="2.2"/>
<text class="ax" x="81.8" y="205.6" text-anchor="end">32</text>
<line x1="88" y1="300.9" x2="95" y2="300.9" stroke="#333" stroke-width="2.2"/>
<text class="ax" x="81.8" y="314.1" text-anchor="end">28</text>
<line x1="88" y1="409.5" x2="95" y2="409.5" stroke="#333" stroke-width="2.2"/>
<text class="ax" x="81.8" y="422.7" text-anchor="end">24</text>
<line x1="144" y1="525.5" x2="144" y2="532.5" stroke="#333" stroke-width="2.2"/>
<text class="ax" x="144" y="564" text-anchor="middle">100</text>
<line x1="269.4" y1="525.5" x2="269.4" y2="532.5" stroke="#333" stroke-width="2.2"/>
<text class="ax" x="269.4" y="564" text-anchor="middle">105</text>
<line x1="395" y1="525.5" x2="395" y2="532.5" stroke="#333" stroke-width="2.2"/>
<text class="ax" x="395" y="564" text-anchor="middle">110</text>
<line x1="521.4" y1="525.5" x2="521.4" y2="532.5" stroke="#333" stroke-width="2.2"/>
<text class="ax" x="521.4" y="564" text-anchor="middle">115</text>
<line x1="647.4" y1="525.5" x2="647.4" y2="532.5" stroke="#333" stroke-width="2.2"/>
<text class="ax" x="647.4" y="564" text-anchor="middle">120</text>
</g>
<text class="let" x="911.5" y="38">B</text>
<text class="ttl" x="1297.9" y="65.2" text-anchor="middle">Heat extreme maximum</text>
<rect x="1640" y="110" width="34.5" height="429.6" fill="url(#gB)"/>
<text class="cbt" x="1640" y="88.9">day</text>
<text class="cbl" x="1690.5" y="549.3">0</text>
<text class="cbl" x="1690.5" y="481.7">1</text>
<line x1="1640" y1="404.4" x2="1646.9" y2="404.4" stroke="#fff" stroke-width="1.3"/>
<line x1="1667.6" y1="404.4" x2="1674.5" y2="404.4" stroke="#fff" stroke-width="1.3"/>
<text class="cbl" x="1690.5" y="414.1">2</text>
<line x1="1640" y1="336.8" x2="1646.9" y2="336.8" stroke="#fff" stroke-width="1.3"/>
<line x1="1667.6" y1="336.8" x2="1674.5" y2="336.8" stroke="#fff" stroke-width="1.3"/>
<text class="cbl" x="1690.5" y="346.5">3</text>
<text class="cbl" x="1690.5" y="278.9">4</text>
<text class="cbl" x="1690.5" y="211.3">5</text>
<line x1="1640" y1="134" x2="1646.9" y2="134" stroke="#fff" stroke-width="1.3"/>
<line x1="1667.6" y1="134" x2="1674.5" y2="134" stroke="#fff" stroke-width="1.3"/>
<text class="cbl" x="1690.5" y="143.7">6</text>
<g transform="translate(-6,597)">
<g clip-path="url(#fr)"><g filter="url(#rough)"><use href="#base"/><g class="pg">
<polygon fill="#ffffff" points="108,369 109,375 110,383 115,388 116,394 120,400 121,407 110,407.5 100,408 90,410 80,409 80,385 95,385 99,376 104,374"/>
<polygon fill="#ffffff" points="137,437 140,433 146,434 152,432 155,425 160,423 164,414 165,406 164,400 166,396 170,395 175,398 180,404 184,412 185,420 190,427 193,435 195,442 193,448 198,452 204,456 203,459 196,458 190,457 187,460 184,455 178,454 169,452.5 160,455 152,459 147,464 144,467 135,464 128,463 129,456 132,448 133,442"/>
<polygon fill="#ffffff" points="146,466 152,459 160,455 169,452.5 178,454 184,455 187,460 190,465 191,480 192.5,490 187.5,494 179,490 176,480 172.5,470 162.5,476 155,480 149,476"/>
<polygon fill="#ffffff" points="121,407 128,403 134,400.5 139,402 144.5,397 148,390 152,385 156,388 155,394 160,396 164,400 165,406 164,414 160,423 155,425 152,432 146,434 140,433 137,437 130,436 123,433 121,426 120,419 118,414 119,409"/>
<polygon fill="#f1f6fa" points="122.5,359 130,367 136,371 143,381 150.5,385.2 153,385.5 148,390 144.5,397 139,402 134,400.5 128,403 121,406 120,400 116,394 115,388 110,383 109,375 108,369 113,366 117,361"/>
<polygon fill="#ffffff" points="399,480.5 396,484 393,489 390,492 388,497 387.5,504 389,510 392,516 394,520 397,521.5 402,521 406,519.5 409,517 406,517 403,514 402,508 399,505 400,501 404,498 408,495 411,491 408,489 405,484 402,481"/>
<polygon fill="#ffffff" points="353,472 358,469 364,466 370,464.5 376,464 382,462.5 387,461 391,460.5 389,465 386,468 384,471 383,475 380,476 374,477 369,478.5 365,480.5 362,479 358,476.5 353,476"/>
<polygon fill="#ffffff" points="452,414 455,420 459,428 463,436 463,446 460,450 456,453 454,449 451,445 445,444 438,443 435,440 431,437 437,430 443,424 445,418"/>
<polygon fill="#ffffff" points="538,398 547,396 555,402 563,408 565,414 561,420 555,426 547,428 535,431 530,432 529,424 531,418 535,410 535,402"/>
<polygon fill="#ffffff" points="535,431 547,428 555,426 553,432 549,438 547,446 543,444 539,438 535,436"/>
<polygon fill="#ffffff" points="555,426 561,420 565,415 569,428 565,430 559,432 555,430"/>
<polygon fill="#ffffff" points="566,400 570,396 576,392 582,392 587,393 590,395 588,400 587,405 590,409 588,413 584,416 580,420 576,423 571,425 568,428 566,420 564,413 565,406"/>
<polygon fill="#ffffff" points="588,374 589,367 594,365 599,364 600,369 599,375 602,380 606,384 609,388 605,392 604,397 600,398 596,393 592,391 587,393 582,392 580,388 582,384 580,380 582,376"/>
<polygon fill="#f6f9fc" points="605,350 610,347 616,345.5 622,345 625,349 626,354 625,360 627,365 624,370 620,372 617,369 612,368 605,369 600,369 600,364 601,357 602.5,353"/>
<polygon fill="#f3f7fb" points="553,340 558,336 564,333 568,332 573,335 577,339 580,343 585,346 590,350 596,351.5 601,352 600,358 599,363 594,365 589,367 588,374 585,376 582,373 580,368 573,366 566,364 559,363 555,360 554,354 555,348 552,344"/>
<polygon fill="#f3f7fb" points="531,322 539,314 547,308 554,303 560,308 563,314 562,319 564,323 564.5,329 564,333 558,336 553,340 550,344 546,343 542,338 539,334 535,330"/>
<polygon fill="#e3ecf6" points="567,317 575,314 583,309 591,305 596,302 601,302 603,308 606,315 608,320 614,321.5 610,328 605,334 601,340 600,345 601,350 596,351.5 590,350 585,346 580,343 577,339 573,335 568,332 564.5,329 564,323"/>
<polygon fill="#9abfde" points="614,321.5 619,320 623,320 627,324 632,325 639,323 640,327 636,332 632,336 627,339 623,340 619,343 614,345 609,346 605,348 602,345 601.5,340 605,334 610,329"/>
<polygon fill="#dde9f4" points="604,294 609,290 615,288 620,292 625,291 630,288.5 636,290 640,296 640,301 635,304 628,307 625,312 620,316 618,320 614,321.5 608,320 606,315 603,308 602,300"/>
<polygon fill="#d8e6f2" points="573,267 578,266.5 584,267.5 583,273 584,279 588,285 592,290 594,296 593,302 591,307 585,310 579,314 575,312 570,306 568,300 569,294 572,288 571,280 572,273"/>
<polygon fill="#d8e6f2" points="550,270 555,268 558,273 557,280 558,287 563,290 564,293 559,296 554,299 551,295 547,290 546,286 549,280 548,275"/>
<polygon fill="#dde9f4" points="581,244 585,242 588,248 592,252 596,254 599,254 596,260 594,265 589,268 584,266.5 578,266 573,266 569,262 565,259 570,255 575,252 579,248"/>
<polygon fill="#d8e6f2" points="600,249 604,244 610,241 614,241 618,239.5 623,238 628,239 635,240 641,241 643,244 638,247 633,252 628,256 624,260 621,266 616,269 610,272 604,271 599,273 595,270 593,267 596,260 599,254"/>
<polygon fill="#dde9f4" points="596,222 602,220 609,219 616,223 614.5,229 612,234 609,237 610,241 604,244 600,249 596,254 592,252 588,248 585,242 589,236 591,230 594,226"/>
<polygon fill="#e6eff7" points="617,223.5 622,222 627,225 634,227 635,231 632,236 628,239 623,238 618,239.5 614,241 610,241 609,237 612,234 614.5,229"/>
<polygon fill="#e6eff7" points="651,243 655,240 660,240.5 664,243 668,247 671,251 672,255 670,259 666,262 663,266 660,270 657.5,268 657,263 655,258 653,253 651.5,248"/>
<polygon fill="#c4d9ec" points="480,266 485,260 493,259 501,264 505,270 509,274 503,278 495,280 491,286 487,282 483,276 482,270"/>
<polygon fill="#adcae4" points="491,286 495,280 503,278 509,274 515,272 523,266 531,264 539,260 547,258 553,256 551,262 547,268 549,274 545,280 535,282 527,284 519,286 511,288 507,292 501,292 495,290"/>
<polygon fill="#d8e6f2" points="441.9,311.2 446.2,308.8 451.2,309.4 455,306.2 460,305 465,302.5 471.2,301.2 475,300 480,301.2 486.2,300.6 491.2,300 492.5,303.8 490,307.5 485,309.4 480,313.1 475,311.9 470,313.8 463.8,312.5 458.8,313.1 452.5,311.9 447.5,315 442.5,315"/>
<polygon fill="#b4cfe6" points="481,196 489,192 495,196 503,194 509,190 519,191 527,194 529,202 528,208 523,211 519,216 517,220 513,216 507,218 503,216 499,210 493,208 485,206 483,200"/>
<polygon fill="#539bca" points="585.5,94.5 590,92 593,94 594,98 600,99 604,102 602,107 600,112 595,110 593,107 589,108 586,107 585,100"/>
<polygon fill="#ffffff" points="225.5,233.3 230.3,232.9 233.6,235.7 236.8,236.5 238,240.6 236.8,245.5 235.2,249.5 238.4,251.9 240.1,253.6 236.8,256.8 235.2,261.7 231.9,264.9 229.5,269 231.9,273.9 227.9,275.9 223.8,277.9 220.6,280.4 217.3,284.8 214.1,282 213.3,277.1 210.4,271.4 214.9,269.8 218.1,264.9 219,258.4 220.6,251.9 222.2,245.5 222.2,239 223.8,234.9"/>
<polygon fill="#cadced" points="238,240.6 239.3,236.5 244.9,235.7 249,237.3 251.8,235.7 253.1,232.5 252.6,224.4 253.1,219.5 255.5,219.5 256.3,223.5 259.5,230 262,233.3 266,234.1 269.3,235.7 274.2,239.8 270.9,240.6 266.9,242.2 263.6,246.3 260.4,249.5 257.1,248.7 253.1,247.1 249.8,247.9 246.6,251.9 243.3,252.8 240.1,251.9 238.4,250.3 236,248.7 236.8,245.5"/>
<polygon fill="#77acd3" points="297,183 304,180 304,167 316,165 326,160 336,163 352,162 352,200 344,197 336,192 330,187 320,188 310,184 304,183 298,186"/>
<polygon fill="#b4cfe6" points="354,162 367,160 368,166 366,174 372,178 384,179 390,178 392,186 398,189 394,194 388,196 384,204 385,214 380,213 374,206 366,202 358,198 354,192 353,176"/>
<polygon fill="#ffffff" points="361.9,203.8 367.5,206.9 375,211.9 380,215 386.2,215.6 392.5,222.5 398.1,227.5 398.8,233.8 395,238.1 388.8,239.4 383.8,243.8 378.8,243.1 372.5,245.6 366.2,245 360,248.1 360,255 362.5,261.2 361.2,266.2 366.2,271.2 370,277.5 375,281.2 377.5,288.8 376.2,296.2 375,302.5 373.1,308.1 367.5,307.5 366.2,302.5 361.2,300 358.8,295 355,288.8 350,286.2 343.8,283.8 338.8,283.1 335,285 333.8,290 328.8,292.5 326.2,291.2 321.2,296.2 317.5,297.5 313.8,292.5 308.8,290 305,285 297.5,282.5 296.2,277.5 288.8,271.9 293.8,267.5 297.5,260 297.5,251.2 305,252.5 313.8,253.8 318.8,257.5 330,255 336.2,250 338.8,240 348.8,238.8 353.8,227.5 356.2,221.2 361.2,213.8 358.8,210"/>
<polygon fill="#9ec2df" points="360,248.1 366.2,245 372.5,245.6 378.8,243.1 383.8,243.8 388.8,239.4 395,238.1 398.8,233.8 400.6,227.5 403.1,226.2 405,231.2 404.4,240 405,246.2 403.1,252.5 403.8,257.5 401.9,261.9 405,263.8 410,265.6 407.5,268.1 400,266.2 392.5,268.1 386.2,271.2 380,275 376.2,280 375,281.2 370,277.5 366.2,271.2 361.2,266.2 362.5,261.2 360,255"/>
<polygon fill="#66a3cf" points="410,221.2 415,220 418.8,222.5 423.8,224.4 430,227.5 436.2,228.8 440,232.5 441.9,240 440,246.2 438.8,251.2 433.8,253.8 427.5,256.9 423.8,258.1 417.5,256.9 411.2,258.1 406.2,259.4 403.8,257.5 405,252.5 406.9,246.2 406.2,240 406.9,231.2 407.5,226.2"/>
<polygon fill="#d3e2f0" points="294.4,300 301.2,296.9 308.8,298.8 313.8,293.8 317.5,297.5 321.2,296.2 326.2,291.2 328.8,292.5 333.8,290 335,285 338.8,283.1 343.8,283.8 350,286.2 352.5,290 351.9,296.2 349.4,300 348.8,303.8 345.6,306.2 344.4,315 345.6,322.5 343.8,327.5 342.5,332.5 337.5,332.5 332.5,328.1 327.5,329.4 322.5,331.2 317.5,326.2 311.2,324.4 304.4,321.2 308.8,316.2 306.9,311.2 301.9,306.2 298.8,305"/>
<polygon fill="#c3d8eb" points="352.5,290 355,288.8 358.8,295 361.2,300 366.2,302.5 367.5,307.5 373.1,308.1 377.5,306.2 378.8,313.8 378.1,320 380,324.4 375,327.5 367.5,327.5 361.2,326.9 355,329.4 347.5,331.9 343.8,331.2 345.6,322.5 344.4,315 345.6,306.2 348.8,303.8 349.4,300 351.9,296.2"/>
<polygon fill="#8bb7d9" points="343.8,333.8 347.5,333.1 355,330.6 361.2,328.1 367.5,328.8 370,331.2 367.5,335 367.5,339.4 373.8,340 380,339.4 381.9,343.8 380,350 380,357.5 378.8,365 380,370 375,373.8 367.5,376.2 361.2,381.2 357.5,380 353.8,375 351.9,367.5 346.2,363.8 342.5,358.8 336.2,355 341.2,351.2 340,343.8 342.5,338.8"/>
<polygon fill="#edf3f9" points="384,370 389,376 388,388 386,398 390,402 397,406 396,414 390,418 382,422 374,418 370,410 374,404 376,396 374,390 365,388 364,384 374,382 376,376 380,371"/>
</g></g>
<text class="lab" x="558.75" y="114">SD</text>
<text class="lab" x="351.5" y="157.5">SX</text>
<text class="lab" x="508" y="188.5">HeN</text>
<text class="lab" x="441.5" y="231">HB</text>
<text class="lab" x="567" y="237.5">AH</text>
<text class="lab" x="235" y="239.5">SC</text>
<text class="lab" x="325.5" y="281.5">CQ</text>
<text class="lab" x="629.5" y="288.5">ZJ</text>
<text class="lab" x="300.5" y="350">GZ</text>
<text class="lab" x="467" y="336.5">HuN</text>
<text class="lab" x="513.5" y="322.5">JX</text>
<text class="lab" x="564.5" y="387.5">FJ</text>
<text class="lab" x="150.5" y="423.5">YN</text>
<text class="lab" x="371" y="458.5">GX</text>
<text class="lab" x="494.5" y="457.5">GD</text>
</g>
<line x1="93.55" y1="525.5" x2="697.65" y2="525.5" stroke="#000" stroke-width="2.8"/>
<line x1="696.2" y1="84.5" x2="696.2" y2="526.9" stroke="#000" stroke-width="2.9"/>
<line x1="95" y1="84.5" x2="95" y2="526.9" stroke="#000" stroke-width="2.9"/>
<line x1="93.55" y1="85.9" x2="697.65" y2="85.9" stroke="#000" stroke-width="3"/>
<line x1="88" y1="84" x2="95" y2="84" stroke="#333" stroke-width="2.2"/>
<text class="ax" x="81.8" y="97.2" text-anchor="end">36</text>
<line x1="88" y1="192.4" x2="95" y2="192.4" stroke="#333" stroke-width="2.2"/>
<text class="ax" x="81.8" y="205.6" text-anchor="end">32</text>
<line x1="88" y1="300.9" x2="95" y2="300.9" stroke="#333" stroke-width="2.2"/>
<text class="ax" x="81.8" y="314.1" text-anchor="end">28</text>
<line x1="88" y1="409.5" x2="95" y2="409.5" stroke="#333" stroke-width="2.2"/>
<text class="ax" x="81.8" y="422.7" text-anchor="end">24</text>
<line x1="144" y1="525.5" x2="144" y2="532.5" stroke="#333" stroke-width="2.2"/>
<text class="ax" x="144" y="564" text-anchor="middle">100</text>
<line x1="269.4" y1="525.5" x2="269.4" y2="532.5" stroke="#333" stroke-width="2.2"/>
<text class="ax" x="269.4" y="564" text-anchor="middle">105</text>
<line x1="395" y1="525.5" x2="395" y2="532.5" stroke="#333" stroke-width="2.2"/>
<text class="ax" x="395" y="564" text-anchor="middle">110</text>
<line x1="521.4" y1="525.5" x2="521.4" y2="532.5" stroke="#333" stroke-width="2.2"/>
<text class="ax" x="521.4" y="564" text-anchor="middle">115</text>
<line x1="647.4" y1="525.5" x2="647.4" y2="532.5" stroke="#333" stroke-width="2.2"/>
<text class="ax" x="647.4" y="564" text-anchor="middle">120</text>
</g>
<text class="let" x="3.8" y="634.8">C</text>
<text class="ttl" x="389.6" y="662.2" text-anchor="middle">Yield loss maximum by cold extreme</text>
<rect x="732.2" y="717.8" width="35.2" height="428.2" fill="url(#gC)"/>
<text class="cbt" x="733.4" y="686.8">%</text>
<text class="cbl" x="785" y="727.5">0</text>
<text class="cbl" x="785" y="797.2">-10</text>
<line x1="732.2" y1="857.2" x2="739.24" y2="857.2" stroke="#fff" stroke-width="1.3"/>
<line x1="760.36" y1="857.2" x2="767.4" y2="857.2" stroke="#fff" stroke-width="1.3"/>
<text class="cbl" x="785" y="866.9">-20</text>
<text class="cbl" x="785" y="936.6">-30</text>
<line x1="732.2" y1="996.6" x2="739.24" y2="996.6" stroke="#fff" stroke-width="1.3"/>
<line x1="760.36" y1="996.6" x2="767.4" y2="996.6" stroke="#fff" stroke-width="1.3"/>
<text class="cbl" x="785" y="1006.3">-40</text>
<text class="cbl" x="785" y="1076">-50</text>
<line x1="732.2" y1="1136" x2="739.24" y2="1136" stroke="#fff" stroke-width="1.3"/>
<line x1="760.36" y1="1136" x2="767.4" y2="1136" stroke="#fff" stroke-width="1.3"/>
<text class="cbl" x="785" y="1145.7">-60</text>
<g transform="translate(889.5,597)">
<g clip-path="url(#fr)"><g filter="url(#rough)"><use href="#base"/><g class="pg">
<polygon fill="#ffffff" points="108,369 109,375 110,383 115,388 116,394 120,400 121,407 110,407.5 100,408 90,410 80,409 80,385 95,385 99,376 104,374"/>
<polygon fill="#ffffff" points="137,437 140,433 146,434 152,432 155,425 160,423 164,414 165,406 164,400 166,396 170,395 175,398 180,404 184,412 185,420 190,427 193,435 195,442 193,448 198,452 204,456 203,459 196,458 190,457 187,460 184,455 178,454 169,452.5 160,455 152,459 147,464 144,467 135,464 128,463 129,456 132,448 133,442"/>
<polygon fill="#ffffff" points="146,466 152,459 160,455 169,452.5 178,454 184,455 187,460 190,465 191,480 192.5,490 187.5,494 179,490 176,480 172.5,470 162.5,476 155,480 149,476"/>
<polygon fill="#ffffff" points="121,407 128,403 134,400.5 139,402 144.5,397 148,390 152,385 156,388 155,394 160,396 164,400 165,406 164,414 160,423 155,425 152,432 146,434 140,433 137,437 130,436 123,433 121,426 120,419 118,414 119,409"/>
<polygon fill="#ffffff" points="122.5,359 130,367 136,371 143,381 150.5,385.2 153,385.5 148,390 144.5,397 139,402 134,400.5 128,403 121,406 120,400 116,394 115,388 110,383 109,375 108,369 113,366 117,361"/>
<polygon fill="#ffffff" points="399,480.5 396,484 393,489 390,492 388,497 387.5,504 389,510 392,516 394,520 397,521.5 402,521 406,519.5 409,517 406,517 403,514 402,508 399,505 400,501 404,498 408,495 411,491 408,489 405,484 402,481"/>
<polygon fill="#ffffff" points="353,472 358,469 364,466 370,464.5 376,464 382,462.5 387,461 391,460.5 389,465 386,468 384,471 383,475 380,476 374,477 369,478.5 365,480.5 362,479 358,476.5 353,476"/>
<polygon fill="#ffffff" points="452,414 455,420 459,428 463,436 463,446 460,450 456,453 454,449 451,445 445,444 438,443 435,440 431,437 437,430 443,424 445,418"/>
<polygon fill="#ffffff" points="538,398 547,396 555,402 563,408 565,414 561,420 555,426 547,428 535,431 530,432 529,424 531,418 535,410 535,402"/>
<polygon fill="#ffffff" points="535,431 547,428 555,426 553,432 549,438 547,446 543,444 539,438 535,436"/>
<polygon fill="#ffffff" points="555,426 561,420 565,415 569,428 565,430 559,432 555,430"/>
<polygon fill="#ffffff" points="566,400 570,396 576,392 582,392 587,393 590,395 588,400 587,405 590,409 588,413 584,416 580,420 576,423 571,425 568,428 566,420 564,413 565,406"/>
<polygon fill="#ffffff" points="588,374 589,367 594,365 599,364 600,369 599,375 602,380 606,384 609,388 605,392 604,397 600,398 596,393 592,391 587,393 582,392 580,388 582,384 580,380 582,376"/>
<polygon fill="#ffffff" points="605,350 610,347 616,345.5 622,345 625,349 626,354 625,360 627,365 624,370 620,372 617,369 612,368 605,369 600,369 600,364 601,357 602.5,353"/>
<polygon fill="#ffffff" points="553,340 558,336 564,333 568,332 573,335 577,339 580,343 585,346 590,350 596,351.5 601,352 600,358 599,363 594,365 589,367 588,374 585,376 582,373 580,368 573,366 566,364 559,363 555,360 554,354 555,348 552,344"/>
<polygon fill="#ffffff" points="531,322 539,314 547,308 554,303 560,308 563,314 562,319 564,323 564.5,329 564,333 558,336 553,340 550,344 546,343 542,338 539,334 535,330"/>
<polygon fill="#ffffff" points="567,317 575,314 583,309 591,305 596,302 601,302 603,308 606,315 608,320 614,321.5 610,328 605,334 601,340 600,345 601,350 596,351.5 590,350 585,346 580,343 577,339 573,335 568,332 564.5,329 564,323"/>
<polygon fill="#ffffff" points="614,321.5 619,320 623,320 627,324 632,325 639,323 640,327 636,332 632,336 627,339 623,340 619,343 614,345 609,346 605,348 602,345 601.5,340 605,334 610,329"/>
<polygon fill="#ffffff" points="604,294 609,290 615,288 620,292 625,291 630,288.5 636,290 640,296 640,301 635,304 628,307 625,312 620,316 618,320 614,321.5 608,320 606,315 603,308 602,300"/>
<polygon fill="#ffffff" points="573,267 578,266.5 584,267.5 583,273 584,279 588,285 592,290 594,296 593,302 591,307 585,310 579,314 575,312 570,306 568,300 569,294 572,288 571,280 572,273"/>
<polygon fill="#ffffff" points="550,270 555,268 558,273 557,280 558,287 563,290 564,293 559,296 554,299 551,295 547,290 546,286 549,280 548,275"/>
<polygon fill="#ffffff" points="581,244 585,242 588,248 592,252 596,254 599,254 596,260 594,265 589,268 584,266.5 578,266 573,266 569,262 565,259 570,255 575,252 579,248"/>
<polygon fill="#ffffff" points="600,249 604,244 610,241 614,241 618,239.5 623,238 628,239 635,240 641,241 643,244 638,247 633,252 628,256 624,260 621,266 616,269 610,272 604,271 599,273 595,270 593,267 596,260 599,254"/>
<polygon fill="#dce8f3" points="596,222 602,220 609,219 616,223 614.5,229 612,234 609,237 610,241 604,244 600,249 596,254 592,252 588,248 585,242 589,236 591,230 594,226"/>
<polygon fill="#a6c6e2" points="617,223.5 622,222 627,225 634,227 635,231 632,236 628,239 623,238 618,239.5 614,241 610,241 609,237 612,234 614.5,229"/>
<polygon fill="#dce8f3" points="651,243 655,240 660,240.5 664,243 668,247 671,251 672,255 670,259 666,262 663,266 660,270 657.5,268 657,263 655,258 653,253 651.5,248"/>
<polygon fill="#e5eef6" points="480,266 485,260 493,259 501,264 505,270 509,274 503,278 495,280 491,286 487,282 483,276 482,270"/>
<polygon fill="#ffffff" points="491,286 495,280 503,278 509,274 515,272 523,266 531,264 539,260 547,258 553,256 551,262 547,268 549,274 545,280 535,282 527,284 519,286 511,288 507,292 501,292 495,290"/>
<polygon fill="#ffffff" points="441.9,311.2 446.2,308.8 451.2,309.4 455,306.2 460,305 465,302.5 471.2,301.2 475,300 480,301.2 486.2,300.6 491.2,300 492.5,303.8 490,307.5 485,309.4 480,313.1 475,311.9 470,313.8 463.8,312.5 458.8,313.1 452.5,311.9 447.5,315 442.5,315"/>
<polygon fill="#ffffff" points="481,196 489,192 495,196 503,194 509,190 519,191 527,194 529,202 528,208 523,211 519,216 517,220 513,216 507,218 503,216 499,210 493,208 485,206 483,200"/>
<polygon fill="#ffffff" points="585.5,94.5 590,92 593,94 594,98 600,99 604,102 602,107 600,112 595,110 593,107 589,108 586,107 585,100"/>
<polygon fill="#ffffff" points="225.5,233.3 230.3,232.9 233.6,235.7 236.8,236.5 238,240.6 236.8,245.5 235.2,249.5 238.4,251.9 240.1,253.6 236.8,256.8 235.2,261.7 231.9,264.9 229.5,269 231.9,273.9 227.9,275.9 223.8,277.9 220.6,280.4 217.3,284.8 214.1,282 213.3,277.1 210.4,271.4 214.9,269.8 218.1,264.9 219,258.4 220.6,251.9 222.2,245.5 222.2,239 223.8,234.9"/>
<polygon fill="#ffffff" points="238,240.6 239.3,236.5 244.9,235.7 249,237.3 251.8,235.7 253.1,232.5 252.6,224.4 253.1,219.5 255.5,219.5 256.3,223.5 259.5,230 262,233.3 266,234.1 269.3,235.7 274.2,239.8 270.9,240.6 266.9,242.2 263.6,246.3 260.4,249.5 257.1,248.7 253.1,247.1 249.8,247.9 246.6,251.9 243.3,252.8 240.1,251.9 238.4,250.3 236,248.7 236.8,245.5"/>
<polygon fill="#ffffff" points="297,183 304,180 304,167 316,165 326,160 336,163 352,162 352,200 344,197 336,192 330,187 320,188 310,184 304,183 298,186"/>
<polygon fill="#ffffff" points="354,162 367,160 368,166 366,174 372,178 384,179 390,178 392,186 398,189 394,194 388,196 384,204 385,214 380,213 374,206 366,202 358,198 354,192 353,176"/>
<polygon fill="#4093c6" points="361.9,203.8 367.5,206.9 375,211.9 380,215 386.2,215.6 392.5,222.5 398.1,227.5 398.8,233.8 395,238.1 388.8,239.4 383.8,243.8 378.8,243.1 372.5,245.6 366.2,245 360,248.1 360,255 362.5,261.2 361.2,266.2 366.2,271.2 370,277.5 375,281.2 377.5,288.8 376.2,296.2 375,302.5 373.1,308.1 367.5,307.5 366.2,302.5 361.2,300 358.8,295 355,288.8 350,286.2 343.8,283.8 338.8,283.1 335,285 333.8,290 328.8,292.5 326.2,291.2 321.2,296.2 317.5,297.5 313.8,292.5 308.8,290 305,285 297.5,282.5 296.2,277.5 288.8,271.9 293.8,267.5 297.5,260 297.5,251.2 305,252.5 313.8,253.8 318.8,257.5 330,255 336.2,250 338.8,240 348.8,238.8 353.8,227.5 356.2,221.2 361.2,213.8 358.8,210"/>
<polygon fill="#ffffff" points="360,248.1 366.2,245 372.5,245.6 378.8,243.1 383.8,243.8 388.8,239.4 395,238.1 398.8,233.8 400.6,227.5 403.1,226.2 405,231.2 404.4,240 405,246.2 403.1,252.5 403.8,257.5 401.9,261.9 405,263.8 410,265.6 407.5,268.1 400,266.2 392.5,268.1 386.2,271.2 380,275 376.2,280 375,281.2 370,277.5 366.2,271.2 361.2,266.2 362.5,261.2 360,255"/>
<polygon fill="#ffffff" points="410,221.2 415,220 418.8,222.5 423.8,224.4 430,227.5 436.2,228.8 440,232.5 441.9,240 440,246.2 438.8,251.2 433.8,253.8 427.5,256.9 423.8,258.1 417.5,256.9 411.2,258.1 406.2,259.4 403.8,257.5 405,252.5 406.9,246.2 406.2,240 406.9,231.2 407.5,226.2"/>
<polygon fill="#ffffff" points="294.4,300 301.2,296.9 308.8,298.8 313.8,293.8 317.5,297.5 321.2,296.2 326.2,291.2 328.8,292.5 333.8,290 335,285 338.8,283.1 343.8,283.8 350,286.2 352.5,290 351.9,296.2 349.4,300 348.8,303.8 345.6,306.2 344.4,315 345.6,322.5 343.8,327.5 342.5,332.5 337.5,332.5 332.5,328.1 327.5,329.4 322.5,331.2 317.5,326.2 311.2,324.4 304.4,321.2 308.8,316.2 306.9,311.2 301.9,306.2 298.8,305"/>
<polygon fill="#ffffff" points="352.5,290 355,288.8 358.8,295 361.2,300 366.2,302.5 367.5,307.5 373.1,308.1 377.5,306.2 378.8,313.8 378.1,320 380,324.4 375,327.5 367.5,327.5 361.2,326.9 355,329.4 347.5,331.9 343.8,331.2 345.6,322.5 344.4,315 345.6,306.2 348.8,303.8 349.4,300 351.9,296.2"/>
<polygon fill="#ffffff" points="343.8,333.8 347.5,333.1 355,330.6 361.2,328.1 367.5,328.8 370,331.2 367.5,335 367.5,339.4 373.8,340 380,339.4 381.9,343.8 380,350 380,357.5 378.8,365 380,370 375,373.8 367.5,376.2 361.2,381.2 357.5,380 353.8,375 351.9,367.5 346.2,363.8 342.5,358.8 336.2,355 341.2,351.2 340,343.8 342.5,338.8"/>
<polygon fill="#ffffff" points="384,370 389,376 388,388 386,398 390,402 397,406 396,414 390,418 382,422 374,418 370,410 374,404 376,396 374,390 365,388 364,384 374,382 376,376 380,371"/>
</g></g>
<text class="lab" x="325.5" y="281.5">CQ</text>
<text class="lab" x="567" y="237.5">AH</text>
<text class="lab" x="629.5" y="288.5">ZJ</text>
</g>
<line x1="93.55" y1="525.5" x2="697.65" y2="525.5" stroke="#000" stroke-width="2.8"/>
<line x1="696.2" y1="84.5" x2="696.2" y2="526.9" stroke="#000" stroke-width="2.9"/>
<line x1="95" y1="84.5" x2="95" y2="526.9" stroke="#000" stroke-width="2.9"/>
<line x1="93.55" y1="85.9" x2="697.65" y2="85.9" stroke="#000" stroke-width="3"/>
<line x1="88" y1="84" x2="95" y2="84" stroke="#333" stroke-width="2.2"/>
<text class="ax" x="81.8" y="97.2" text-anchor="end">36</text>
<line x1="88" y1="192.4" x2="95" y2="192.4" stroke="#333" stroke-width="2.2"/>
<text class="ax" x="81.8" y="205.6" text-anchor="end">32</text>
<line x1="88" y1="300.9" x2="95" y2="300.9" stroke="#333" stroke-width="2.2"/>
<text class="ax" x="81.8" y="314.1" text-anchor="end">28</text>
<line x1="88" y1="409.5" x2="95" y2="409.5" stroke="#333" stroke-width="2.2"/>
<text class="ax" x="81.8" y="422.7" text-anchor="end">24</text>
<line x1="144" y1="525.5" x2="144" y2="532.5" stroke="#333" stroke-width="2.2"/>
<text class="ax" x="144" y="564" text-anchor="middle">100</text>
<line x1="269.4" y1="525.5" x2="269.4" y2="532.5" stroke="#333" stroke-width="2.2"/>
<text class="ax" x="269.4" y="564" text-anchor="middle">105</text>
<line x1="395" y1="525.5" x2="395" y2="532.5" stroke="#333" stroke-width="2.2"/>
<text class="ax" x="395" y="564" text-anchor="middle">110</text>
<line x1="521.4" y1="525.5" x2="521.4" y2="532.5" stroke="#333" stroke-width="2.2"/>
<text class="ax" x="521.4" y="564" text-anchor="middle">115</text>
<line x1="647.4" y1="525.5" x2="647.4" y2="532.5" stroke="#333" stroke-width="2.2"/>
<text class="ax" x="647.4" y="564" text-anchor="middle">120</text>
</g>
<text class="let" x="897.5" y="634.6">D</text>
<text class="ttl" x="1285.1" y="662.2" text-anchor="middle">Yield loss maximum by heat extreme</text>
<rect x="1628" y="717.8" width="34.6" height="428.2" fill="url(#gD)"/>
<text class="cbt" x="1627.9" y="686.8">%</text>
<text class="cbl" x="1681" y="727.5">0</text>
<line x1="1628" y1="817.15" x2="1634.92" y2="817.15" stroke="#fff" stroke-width="1.3"/>
<line x1="1655.68" y1="817.15" x2="1662.6" y2="817.15" stroke="#fff" stroke-width="1.3"/>
<text class="cbl" x="1681" y="826.85">-5</text>
<text class="cbl" x="1681" y="926.2">-10</text>
<line x1="1628" y1="1015.85" x2="1634.92" y2="1015.85" stroke="#fff" stroke-width="1.3"/>
<line x1="1655.68" y1="1015.85" x2="1662.6" y2="1015.85" stroke="#fff" stroke-width="1.3"/>
<text class="cbl" x="1681" y="1025.55">-15</text>
<line x1="1628" y1="1115.2" x2="1634.92" y2="1115.2" stroke="#fff" stroke-width="1.3"/>
<line x1="1655.68" y1="1115.2" x2="1662.6" y2="1115.2" stroke="#fff" stroke-width="1.3"/>
<text class="cbl" x="1681" y="1124.9">-20</text>
<g transform="translate(-11,1193)">
<g clip-path="url(#fr)"><g filter="url(#rough)"><use href="#base"/><g class="pg">
<polygon fill="#ffffff" points="108,369 109,375 110,383 115,388 116,394 120,400 121,407 110,407.5 100,408 90,410 80,409 80,385 95,385 99,376 104,374"/>
<polygon fill="#ffffff" points="137,437 140,433 146,434 152,432 155,425 160,423 164,414 165,406 164,400 166,396 170,395 175,398 180,404 184,412 185,420 190,427 193,435 195,442 193,448 198,452 204,456 203,459 196,458 190,457 187,460 184,455 178,454 169,452.5 160,455 152,459 147,464 144,467 135,464 128,463 129,456 132,448 133,442"/>
<polygon fill="#ffffff" points="146,466 152,459 160,455 169,452.5 178,454 184,455 187,460 190,465 191,480 192.5,490 187.5,494 179,490 176,480 172.5,470 162.5,476 155,480 149,476"/>
<polygon fill="#ffffff" points="121,407 128,403 134,400.5 139,402 144.5,397 148,390 152,385 156,388 155,394 160,396 164,400 165,406 164,414 160,423 155,425 152,432 146,434 140,433 137,437 130,436 123,433 121,426 120,419 118,414 119,409"/>
<polygon fill="#f8fafd" points="122.5,359 130,367 136,371 143,381 150.5,385.2 153,385.5 148,390 144.5,397 139,402 134,400.5 128,403 121,406 120,400 116,394 115,388 110,383 109,375 108,369 113,366 117,361"/>
<polygon fill="#ffffff" points="399,480.5 396,484 393,489 390,492 388,497 387.5,504 389,510 392,516 394,520 397,521.5 402,521 406,519.5 409,517 406,517 403,514 402,508 399,505 400,501 404,498 408,495 411,491 408,489 405,484 402,481"/>
<polygon fill="#ffffff" points="353,472 358,469 364,466 370,464.5 376,464 382,462.5 387,461 391,460.5 389,465 386,468 384,471 383,475 380,476 374,477 369,478.5 365,480.5 362,479 358,476.5 353,476"/>
<polygon fill="#ffffff" points="452,414 455,420 459,428 463,436 463,446 460,450 456,453 454,449 451,445 445,444 438,443 435,440 431,437 437,430 443,424 445,418"/>
<polygon fill="#ffffff" points="538,398 547,396 555,402 563,408 565,414 561,420 555,426 547,428 535,431 530,432 529,424 531,418 535,410 535,402"/>
<polygon fill="#ffffff" points="535,431 547,428 555,426 553,432 549,438 547,446 543,444 539,438 535,436"/>
<polygon fill="#ffffff" points="555,426 561,420 565,415 569,428 565,430 559,432 555,430"/>
<polygon fill="#ffffff" points="566,400 570,396 576,392 582,392 587,393 590,395 588,400 587,405 590,409 588,413 584,416 580,420 576,423 571,425 568,428 566,420 564,413 565,406"/>
<polygon fill="#ffffff" points="588,374 589,367 594,365 599,364 600,369 599,375 602,380 606,384 609,388 605,392 604,397 600,398 596,393 592,391 587,393 582,392 580,388 582,384 580,380 582,376"/>
<polygon fill="#f6f9fc" points="605,350 610,347 616,345.5 622,345 625,349 626,354 625,360 627,365 624,370 620,372 617,369 612,368 605,369 600,369 600,364 601,357 602.5,353"/>
<polygon fill="#f6f9fc" points="553,340 558,336 564,333 568,332 573,335 577,339 580,343 585,346 590,350 596,351.5 601,352 600,358 599,363 594,365 589,367 588,374 585,376 582,373 580,368 573,366 566,364 559,363 555,360 554,354 555,348 552,344"/>
<polygon fill="#f1f6fa" points="531,322 539,314 547,308 554,303 560,308 563,314 562,319 564,323 564.5,329 564,333 558,336 553,340 550,344 546,343 542,338 539,334 535,330"/>
<polygon fill="#e3ecf6" points="567,317 575,314 583,309 591,305 596,302 601,302 603,308 606,315 608,320 614,321.5 610,328 605,334 601,340 600,345 601,350 596,351.5 590,350 585,346 580,343 577,339 573,335 568,332 564.5,329 564,323"/>
<polygon fill="#93bbdc" points="614,321.5 619,320 623,320 627,324 632,325 639,323 640,327 636,332 632,336 627,339 623,340 619,343 614,345 609,346 605,348 602,345 601.5,340 605,334 610,329"/>
<polygon fill="#e8f0f7" points="604,294 609,290 615,288 620,292 625,291 630,288.5 636,290 640,296 640,301 635,304 628,307 625,312 620,316 618,320 614,321.5 608,320 606,315 603,308 602,300"/>
<polygon fill="#ecf2f9" points="573,267 578,266.5 584,267.5 583,273 584,279 588,285 592,290 594,296 593,302 591,307 585,310 579,314 575,312 570,306 568,300 569,294 572,288 571,280 572,273"/>
<polygon fill="#ecf2f9" points="550,270 555,268 558,273 557,280 558,287 563,290 564,293 559,296 554,299 551,295 547,290 546,286 549,280 548,275"/>
<polygon fill="#eff5fa" points="581,244 585,242 588,248 592,252 596,254 599,254 596,260 594,265 589,268 584,266.5 578,266 573,266 569,262 565,259 570,255 575,252 579,248"/>
<polygon fill="#eff5fa" points="600,249 604,244 610,241 614,241 618,239.5 623,238 628,239 635,240 641,241 643,244 638,247 633,252 628,256 624,260 621,266 616,269 610,272 604,271 599,273 595,270 593,267 596,260 599,254"/>
<polygon fill="#ecf2f9" points="596,222 602,220 609,219 616,223 614.5,229 612,234 609,237 610,241 604,244 600,249 596,254 592,252 588,248 585,242 589,236 591,230 594,226"/>
<polygon fill="#f3f7fb" points="617,223.5 622,222 627,225 634,227 635,231 632,236 628,239 623,238 618,239.5 614,241 610,241 609,237 612,234 614.5,229"/>
<polygon fill="#eff5fa" points="651,243 655,240 660,240.5 664,243 668,247 671,251 672,255 670,259 666,262 663,266 660,270 657.5,268 657,263 655,258 653,253 651.5,248"/>
<polygon fill="#c8dbed" points="480,266 485,260 493,259 501,264 505,270 509,274 503,278 495,280 491,286 487,282 483,276 482,270"/>
<polygon fill="#d6e4f1" points="491,286 495,280 503,278 509,274 515,272 523,266 531,264 539,260 547,258 553,256 551,262 547,268 549,274 545,280 535,282 527,284 519,286 511,288 507,292 501,292 495,290"/>
<polygon fill="#c8dbed" points="441.9,311.2 446.2,308.8 451.2,309.4 455,306.2 460,305 465,302.5 471.2,301.2 475,300 480,301.2 486.2,300.6 491.2,300 492.5,303.8 490,307.5 485,309.4 480,313.1 475,311.9 470,313.8 463.8,312.5 458.8,313.1 452.5,311.9 447.5,315 442.5,315"/>
<polygon fill="#e8f0f7" points="481,196 489,192 495,196 503,194 509,190 519,191 527,194 529,202 528,208 523,211 519,216 517,220 513,216 507,218 503,216 499,210 493,208 485,206 483,200"/>
<polygon fill="#7baed5" points="585.5,94.5 590,92 593,94 594,98 600,99 604,102 602,107 600,112 595,110 593,107 589,108 586,107 585,100"/>
<polygon fill="#ffffff" points="225.5,233.3 230.3,232.9 233.6,235.7 236.8,236.5 238,240.6 236.8,245.5 235.2,249.5 238.4,251.9 240.1,253.6 236.8,256.8 235.2,261.7 231.9,264.9 229.5,269 231.9,273.9 227.9,275.9 223.8,277.9 220.6,280.4 217.3,284.8 214.1,282 213.3,277.1 210.4,271.4 214.9,269.8 218.1,264.9 219,258.4 220.6,251.9 222.2,245.5 222.2,239 223.8,234.9"/>
<polygon fill="#e1ebf5" points="238,240.6 239.3,236.5 244.9,235.7 249,237.3 251.8,235.7 253.1,232.5 252.6,224.4 253.1,219.5 255.5,219.5 256.3,223.5 259.5,230 262,233.3 266,234.1 269.3,235.7 274.2,239.8 270.9,240.6 266.9,242.2 263.6,246.3 260.4,249.5 257.1,248.7 253.1,247.1 249.8,247.9 246.6,251.9 243.3,252.8 240.1,251.9 238.4,250.3 236,248.7 236.8,245.5"/>
<polygon fill="#cddfef" points="297,183 304,180 304,167 316,165 326,160 336,163 352,162 352,200 344,197 336,192 330,187 320,188 310,184 304,183 298,186"/>
<polygon fill="#ecf2f9" points="354,162 367,160 368,166 366,174 372,178 384,179 390,178 392,186 398,189 394,194 388,196 384,204 385,214 380,213 374,206 366,202 358,198 354,192 353,176"/>
<polygon fill="#ffffff" points="361.9,203.8 367.5,206.9 375,211.9 380,215 386.2,215.6 392.5,222.5 398.1,227.5 398.8,233.8 395,238.1 388.8,239.4 383.8,243.8 378.8,243.1 372.5,245.6 366.2,245 360,248.1 360,255 362.5,261.2 361.2,266.2 366.2,271.2 370,277.5 375,281.2 377.5,288.8 376.2,296.2 375,302.5 373.1,308.1 367.5,307.5 366.2,302.5 361.2,300 358.8,295 355,288.8 350,286.2 343.8,283.8 338.8,283.1 335,285 333.8,290 328.8,292.5 326.2,291.2 321.2,296.2 317.5,297.5 313.8,292.5 308.8,290 305,285 297.5,282.5 296.2,277.5 288.8,271.9 293.8,267.5 297.5,260 297.5,251.2 305,252.5 313.8,253.8 318.8,257.5 330,255 336.2,250 338.8,240 348.8,238.8 353.8,227.5 356.2,221.2 361.2,213.8 358.8,210"/>
<polygon fill="#c1d7ea" points="360,248.1 366.2,245 372.5,245.6 378.8,243.1 383.8,243.8 388.8,239.4 395,238.1 398.8,233.8 400.6,227.5 403.1,226.2 405,231.2 404.4,240 405,246.2 403.1,252.5 403.8,257.5 401.9,261.9 405,263.8 410,265.6 407.5,268.1 400,266.2 392.5,268.1 386.2,271.2 380,275 376.2,280 375,281.2 370,277.5 366.2,271.2 361.2,266.2 362.5,261.2 360,255"/>
<polygon fill="#6fa7d1" points="410,221.2 415,220 418.8,222.5 423.8,224.4 430,227.5 436.2,228.8 440,232.5 441.9,240 440,246.2 438.8,251.2 433.8,253.8 427.5,256.9 423.8,258.1 417.5,256.9 411.2,258.1 406.2,259.4 403.8,257.5 405,252.5 406.9,246.2 406.2,240 406.9,231.2 407.5,226.2"/>
<polygon fill="#edf3f9" points="294.4,300 301.2,296.9 308.8,298.8 313.8,293.8 317.5,297.5 321.2,296.2 326.2,291.2 328.8,292.5 333.8,290 335,285 338.8,283.1 343.8,283.8 350,286.2 352.5,290 351.9,296.2 349.4,300 348.8,303.8 345.6,306.2 344.4,315 345.6,322.5 343.8,327.5 342.5,332.5 337.5,332.5 332.5,328.1 327.5,329.4 322.5,331.2 317.5,326.2 311.2,324.4 304.4,321.2 308.8,316.2 306.9,311.2 301.9,306.2 298.8,305"/>
<polygon fill="#eff5fa" points="352.5,290 355,288.8 358.8,295 361.2,300 366.2,302.5 367.5,307.5 373.1,308.1 377.5,306.2 378.8,313.8 378.1,320 380,324.4 375,327.5 367.5,327.5 361.2,326.9 355,329.4 347.5,331.9 343.8,331.2 345.6,322.5 344.4,315 345.6,306.2 348.8,303.8 349.4,300 351.9,296.2"/>
<polygon fill="#cadced" points="343.8,333.8 347.5,333.1 355,330.6 361.2,328.1 367.5,328.8 370,331.2 367.5,335 367.5,339.4 373.8,340 380,339.4 381.9,343.8 380,350 380,357.5 378.8,365 380,370 375,373.8 367.5,376.2 361.2,381.2 357.5,380 353.8,375 351.9,367.5 346.2,363.8 342.5,358.8 336.2,355 341.2,351.2 340,343.8 342.5,338.8"/>
<polygon fill="#f6f9fc" points="384,370 389,376 388,388 386,398 390,402 397,406 396,414 390,418 382,422 374,418 370,410 374,404 376,396 374,390 365,388 364,384 374,382 376,376 380,371"/>
</g></g>
<text class="lab" x="558.75" y="114">SD</text>
<text class="lab" x="351.5" y="157.5">SX</text>
<text class="lab" x="508" y="188.5">HeN</text>
<text class="lab" x="441.5" y="231">HB</text>
<text class="lab" x="567" y="237.5">AH</text>
<text class="lab" x="235" y="239.5">SC</text>
<text class="lab" x="325.5" y="281.5">CQ</text>
<text class="lab" x="629.5" y="288.5">ZJ</text>
<text class="lab" x="300.5" y="350">GZ</text>
<text class="lab" x="467" y="336.5">HuN</text>
<text class="lab" x="513.5" y="322.5">JX</text>
<text class="lab" x="564.5" y="387.5">FJ</text>
<text class="lab" x="150.5" y="423.5">YN</text>
<text class="lab" x="371" y="458.5">GX</text>
<text class="lab" x="494.5" y="457.5">GD</text>
</g>
<line x1="93.55" y1="525.5" x2="697.65" y2="525.5" stroke="#000" stroke-width="2.8"/>
<line x1="696.2" y1="84.5" x2="696.2" y2="526.9" stroke="#000" stroke-width="2.9"/>
<line x1="95" y1="84.5" x2="95" y2="526.9" stroke="#000" stroke-width="2.9"/>
<line x1="93.55" y1="85.9" x2="697.65" y2="85.9" stroke="#000" stroke-width="3"/>
<line x1="88" y1="84" x2="95" y2="84" stroke="#333" stroke-width="2.2"/>
<text class="ax" x="81.8" y="97.2" text-anchor="end">36</text>
<line x1="88" y1="192.4" x2="95" y2="192.4" stroke="#333" stroke-width="2.2"/>
<text class="ax" x="81.8" y="205.6" text-anchor="end">32</text>
<line x1="88" y1="300.9" x2="95" y2="300.9" stroke="#333" stroke-width="2.2"/>
<text class="ax" x="81.8" y="314.1" text-anchor="end">28</text>
<line x1="88" y1="409.5" x2="95" y2="409.5" stroke="#333" stroke-width="2.2"/>
<text class="ax" x="81.8" y="422.7" text-anchor="end">24</text>
<line x1="144" y1="525.5" x2="144" y2="532.5" stroke="#333" stroke-width="2.2"/>
<text class="ax" x="144" y="564" text-anchor="middle">100</text>
<line x1="269.4" y1="525.5" x2="269.4" y2="532.5" stroke="#333" stroke-width="2.2"/>
<text class="ax" x="269.4" y="564" text-anchor="middle">105</text>
<line x1="395" y1="525.5" x2="395" y2="532.5" stroke="#333" stroke-width="2.2"/>
<text class="ax" x="395" y="564" text-anchor="middle">110</text>
<line x1="521.4" y1="525.5" x2="521.4" y2="532.5" stroke="#333" stroke-width="2.2"/>
<text class="ax" x="521.4" y="564" text-anchor="middle">115</text>
<line x1="647.4" y1="525.5" x2="647.4" y2="532.5" stroke="#333" stroke-width="2.2"/>
<text class="ax" x="647.4" y="564" text-anchor="middle">120</text>
</g>
<text class="let" x="1.2" y="1231.3">E</text>
<text class="ttl" x="384.6" y="1258.2" text-anchor="middle">Yield loss maximum by cold extreme</text>
<rect x="728" y="1314.7" width="35" height="428.1" fill="url(#gE)"/>
<text class="cbt" x="727.8" y="1282.6">t/ha</text>
<line x1="728" y1="1314.7" x2="735" y2="1314.7" stroke="#fff" stroke-width="1.3"/>
<line x1="756" y1="1314.7" x2="763" y2="1314.7" stroke="#fff" stroke-width="1.3"/>
<text class="cbl" x="779" y="1324.4">0.0</text>
<line x1="728" y1="1454.2" x2="735" y2="1454.2" stroke="#fff" stroke-width="1.3"/>
<line x1="756" y1="1454.2" x2="763" y2="1454.2" stroke="#fff" stroke-width="1.3"/>
<text class="cbl" x="779" y="1463.9">-0.3</text>
<line x1="728" y1="1593.5" x2="735" y2="1593.5" stroke="#fff" stroke-width="1.3"/>
<line x1="756" y1="1593.5" x2="763" y2="1593.5" stroke="#fff" stroke-width="1.3"/>
<text class="cbl" x="779" y="1603.2">-0.6</text>
<line x1="728" y1="1732.8" x2="735" y2="1732.8" stroke="#fff" stroke-width="1.3"/>
<line x1="756" y1="1732.8" x2="763" y2="1732.8" stroke="#fff" stroke-width="1.3"/>
<text class="cbl" x="779" y="1742.5">-0.9</text>
<g transform="translate(882.5,1193)">
<g clip-path="url(#fr)"><g filter="url(#rough)"><use href="#base"/><g class="pg">
<polygon fill="#ffffff" points="108,369 109,375 110,383 115,388 116,394 120,400 121,407 110,407.5 100,408 90,410 80,409 80,385 95,385 99,376 104,374"/>
<polygon fill="#ffffff" points="137,437 140,433 146,434 152,432 155,425 160,423 164,414 165,406 164,400 166,396 170,395 175,398 180,404 184,412 185,420 190,427 193,435 195,442 193,448 198,452 204,456 203,459 196,458 190,457 187,460 184,455 178,454 169,452.5 160,455 152,459 147,464 144,467 135,464 128,463 129,456 132,448 133,442"/>
<polygon fill="#ffffff" points="146,466 152,459 160,455 169,452.5 178,454 184,455 187,460 190,465 191,480 192.5,490 187.5,494 179,490 176,480 172.5,470 162.5,476 155,480 149,476"/>
<polygon fill="#ffffff" points="121,407 128,403 134,400.5 139,402 144.5,397 148,390 152,385 156,388 155,394 160,396 164,400 165,406 164,414 160,423 155,425 152,432 146,434 140,433 137,437 130,436 123,433 121,426 120,419 118,414 119,409"/>
<polygon fill="#ffffff" points="122.5,359 130,367 136,371 143,381 150.5,385.2 153,385.5 148,390 144.5,397 139,402 134,400.5 128,403 121,406 120,400 116,394 115,388 110,383 109,375 108,369 113,366 117,361"/>
<polygon fill="#ffffff" points="399,480.5 396,484 393,489 390,492 388,497 387.5,504 389,510 392,516 394,520 397,521.5 402,521 406,519.5 409,517 406,517 403,514 402,508 399,505 400,501 404,498 408,495 411,491 408,489 405,484 402,481"/>
<polygon fill="#ffffff" points="353,472 358,469 364,466 370,464.5 376,464 382,462.5 387,461 391,460.5 389,465 386,468 384,471 383,475 380,476 374,477 369,478.5 365,480.5 362,479 358,476.5 353,476"/>
<polygon fill="#ffffff" points="452,414 455,420 459,428 463,436 463,446 460,450 456,453 454,449 451,445 445,444 438,443 435,440 431,437 437,430 443,424 445,418"/>
<polygon fill="#ffffff" points="538,398 547,396 555,402 563,408 565,414 561,420 555,426 547,428 535,431 530,432 529,424 531,418 535,410 535,402"/>
<polygon fill="#ffffff" points="535,431 547,428 555,426 553,432 549,438 547,446 543,444 539,438 535,436"/>
<polygon fill="#ffffff" points="555,426 561,420 565,415 569,428 565,430 559,432 555,430"/>
<polygon fill="#ffffff" points="566,400 570,396 576,392 582,392 587,393 590,395 588,400 587,405 590,409 588,413 584,416 580,420 576,423 571,425 568,428 566,420 564,413 565,406"/>
<polygon fill="#ffffff" points="588,374 589,367 594,365 599,364 600,369 599,375 602,380 606,384 609,388 605,392 604,397 600,398 596,393 592,391 587,393 582,392 580,388 582,384 580,380 582,376"/>
<polygon fill="#ffffff" points="605,350 610,347 616,345.5 622,345 625,349 626,354 625,360 627,365 624,370 620,372 617,369 612,368 605,369 600,369 600,364 601,357 602.5,353"/>
<polygon fill="#ffffff" points="553,340 558,336 564,333 568,332 573,335 577,339 580,343 585,346 590,350 596,351.5 601,352 600,358 599,363 594,365 589,367 588,374 585,376 582,373 580,368 573,366 566,364 559,363 555,360 554,354 555,348 552,344"/>
<polygon fill="#ffffff" points="531,322 539,314 547,308 554,303 560,308 563,314 562,319 564,323 564.5,329 564,333 558,336 553,340 550,344 546,343 542,338 539,334 535,330"/>
<polygon fill="#ffffff" points="567,317 575,314 583,309 591,305 596,302 601,302 603,308 606,315 608,320 614,321.5 610,328 605,334 601,340 600,345 601,350 596,351.5 590,350 585,346 580,343 577,339 573,335 568,332 564.5,329 564,323"/>
<polygon fill="#ffffff" points="614,321.5 619,320 623,320 627,324 632,325 639,323 640,327 636,332 632,336 627,339 623,340 619,343 614,345 609,346 605,348 602,345 601.5,340 605,334 610,329"/>
<polygon fill="#ffffff" points="604,294 609,290 615,288 620,292 625,291 630,288.5 636,290 640,296 640,301 635,304 628,307 625,312 620,316 618,320 614,321.5 608,320 606,315 603,308 602,300"/>
<polygon fill="#ffffff" points="573,267 578,266.5 584,267.5 583,273 584,279 588,285 592,290 594,296 593,302 591,307 585,310 579,314 575,312 570,306 568,300 569,294 572,288 571,280 572,273"/>
<polygon fill="#ffffff" points="550,270 555,268 558,273 557,280 558,287 563,290 564,293 559,296 554,299 551,295 547,290 546,286 549,280 548,275"/>
<polygon fill="#ffffff" points="581,244 585,242 588,248 592,252 596,254 599,254 596,260 594,265 589,268 584,266.5 578,266 573,266 569,262 565,259 570,255 575,252 579,248"/>
<polygon fill="#ffffff" points="600,249 604,244 610,241 614,241 618,239.5 623,238 628,239 635,240 641,241 643,244 638,247 633,252 628,256 624,260 621,266 616,269 610,272 604,271 599,273 595,270 593,267 596,260 599,254"/>
<polygon fill="#dce8f3" points="596,222 602,220 609,219 616,223 614.5,229 612,234 609,237 610,241 604,244 600,249 596,254 592,252 588,248 585,242 589,236 591,230 594,226"/>
<polygon fill="#d8e6f2" points="617,223.5 622,222 627,225 634,227 635,231 632,236 628,239 623,238 618,239.5 614,241 610,241 609,237 612,234 614.5,229"/>
<polygon fill="#d5e3f1" points="651,243 655,240 660,240.5 664,243 668,247 671,251 672,255 670,259 666,262 663,266 660,270 657.5,268 657,263 655,258 653,253 651.5,248"/>
<polygon fill="#d8e6f2" points="480,266 485,260 493,259 501,264 505,270 509,274 503,278 495,280 491,286 487,282 483,276 482,270"/>
<polygon fill="#ffffff" points="491,286 495,280 503,278 509,274 515,272 523,266 531,264 539,260 547,258 553,256 551,262 547,268 549,274 545,280 535,282 527,284 519,286 511,288 507,292 501,292 495,290"/>
<polygon fill="#ffffff" points="441.9,311.2 446.2,308.8 451.2,309.4 455,306.2 460,305 465,302.5 471.2,301.2 475,300 480,301.2 486.2,300.6 491.2,300 492.5,303.8 490,307.5 485,309.4 480,313.1 475,311.9 470,313.8 463.8,312.5 458.8,313.1 452.5,311.9 447.5,315 442.5,315"/>
<polygon fill="#ffffff" points="481,196 489,192 495,196 503,194 509,190 519,191 527,194 529,202 528,208 523,211 519,216 517,220 513,216 507,218 503,216 499,210 493,208 485,206 483,200"/>
<polygon fill="#ffffff" points="585.5,94.5 590,92 593,94 594,98 600,99 604,102 602,107 600,112 595,110 593,107 589,108 586,107 585,100"/>
<polygon fill="#ffffff" points="225.5,233.3 230.3,232.9 233.6,235.7 236.8,236.5 238,240.6 236.8,245.5 235.2,249.5 238.4,251.9 240.1,253.6 236.8,256.8 235.2,261.7 231.9,264.9 229.5,269 231.9,273.9 227.9,275.9 223.8,277.9 220.6,280.4 217.3,284.8 214.1,282 213.3,277.1 210.4,271.4 214.9,269.8 218.1,264.9 219,258.4 220.6,251.9 222.2,245.5 222.2,239 223.8,234.9"/>
<polygon fill="#ffffff" points="238,240.6 239.3,236.5 244.9,235.7 249,237.3 251.8,235.7 253.1,232.5 252.6,224.4 253.1,219.5 255.5,219.5 256.3,223.5 259.5,230 262,233.3 266,234.1 269.3,235.7 274.2,239.8 270.9,240.6 266.9,242.2 263.6,246.3 260.4,249.5 257.1,248.7 253.1,247.1 249.8,247.9 246.6,251.9 243.3,252.8 240.1,251.9 238.4,250.3 236,248.7 236.8,245.5"/>
<polygon fill="#ffffff" points="297,183 304,180 304,167 316,165 326,160 336,163 352,162 352,200 344,197 336,192 330,187 320,188 310,184 304,183 298,186"/>
<polygon fill="#ffffff" points="354,162 367,160 368,166 366,174 372,178 384,179 390,178 392,186 398,189 394,194 388,196 384,204 385,214 380,213 374,206 366,202 358,198 354,192 353,176"/>
<polygon fill="#589dcb" points="361.9,203.8 367.5,206.9 375,211.9 380,215 386.2,215.6 392.5,222.5 398.1,227.5 398.8,233.8 395,238.1 388.8,239.4 383.8,243.8 378.8,243.1 372.5,245.6 366.2,245 360,248.1 360,255 362.5,261.2 361.2,266.2 366.2,271.2 370,277.5 375,281.2 377.5,288.8 376.2,296.2 375,302.5 373.1,308.1 367.5,307.5 366.2,302.5 361.2,300 358.8,295 355,288.8 350,286.2 343.8,283.8 338.8,283.1 335,285 333.8,290 328.8,292.5 326.2,291.2 321.2,296.2 317.5,297.5 313.8,292.5 308.8,290 305,285 297.5,282.5 296.2,277.5 288.8,271.9 293.8,267.5 297.5,260 297.5,251.2 305,252.5 313.8,253.8 318.8,257.5 330,255 336.2,250 338.8,240 348.8,238.8 353.8,227.5 356.2,221.2 361.2,213.8 358.8,210"/>
<polygon fill="#ffffff" points="360,248.1 366.2,245 372.5,245.6 378.8,243.1 383.8,243.8 388.8,239.4 395,238.1 398.8,233.8 400.6,227.5 403.1,226.2 405,231.2 404.4,240 405,246.2 403.1,252.5 403.8,257.5 401.9,261.9 405,263.8 410,265.6 407.5,268.1 400,266.2 392.5,268.1 386.2,271.2 380,275 376.2,280 375,281.2 370,277.5 366.2,271.2 361.2,266.2 362.5,261.2 360,255"/>
<polygon fill="#ffffff" points="410,221.2 415,220 418.8,222.5 423.8,224.4 430,227.5 436.2,228.8 440,232.5 441.9,240 440,246.2 438.8,251.2 433.8,253.8 427.5,256.9 423.8,258.1 417.5,256.9 411.2,258.1 406.2,259.4 403.8,257.5 405,252.5 406.9,246.2 406.2,240 406.9,231.2 407.5,226.2"/>
<polygon fill="#ffffff" points="294.4,300 301.2,296.9 308.8,298.8 313.8,293.8 317.5,297.5 321.2,296.2 326.2,291.2 328.8,292.5 333.8,290 335,285 338.8,283.1 343.8,283.8 350,286.2 352.5,290 351.9,296.2 349.4,300 348.8,303.8 345.6,306.2 344.4,315 345.6,322.5 343.8,327.5 342.5,332.5 337.5,332.5 332.5,328.1 327.5,329.4 322.5,331.2 317.5,326.2 311.2,324.4 304.4,321.2 308.8,316.2 306.9,311.2 301.9,306.2 298.8,305"/>
<polygon fill="#ffffff" points="352.5,290 355,288.8 358.8,295 361.2,300 366.2,302.5 367.5,307.5 373.1,308.1 377.5,306.2 378.8,313.8 378.1,320 380,324.4 375,327.5 367.5,327.5 361.2,326.9 355,329.4 347.5,331.9 343.8,331.2 345.6,322.5 344.4,315 345.6,306.2 348.8,303.8 349.4,300 351.9,296.2"/>
<polygon fill="#ffffff" points="343.8,333.8 347.5,333.1 355,330.6 361.2,328.1 367.5,328.8 370,331.2 367.5,335 367.5,339.4 373.8,340 380,339.4 381.9,343.8 380,350 380,357.5 378.8,365 380,370 375,373.8 367.5,376.2 361.2,381.2 357.5,380 353.8,375 351.9,367.5 346.2,363.8 342.5,358.8 336.2,355 341.2,351.2 340,343.8 342.5,338.8"/>
<polygon fill="#ffffff" points="384,370 389,376 388,388 386,398 390,402 397,406 396,414 390,418 382,422 374,418 370,410 374,404 376,396 374,390 365,388 364,384 374,382 376,376 380,371"/>
</g></g>
<text class="lab" x="325.5" y="281.5">CQ</text>
<text class="lab" x="567" y="237.5">AH</text>
<text class="lab" x="629.5" y="288.5">ZJ</text>
</g>
<line x1="93.55" y1="525.5" x2="697.65" y2="525.5" stroke="#000" stroke-width="2.8"/>
<line x1="696.2" y1="84.5" x2="696.2" y2="526.9" stroke="#000" stroke-width="2.9"/>
<line x1="95" y1="84.5" x2="95" y2="526.9" stroke="#000" stroke-width="2.9"/>
<line x1="93.55" y1="85.9" x2="697.65" y2="85.9" stroke="#000" stroke-width="3"/>
<line x1="88" y1="84" x2="95" y2="84" stroke="#333" stroke-width="2.2"/>
<text class="ax" x="81.8" y="97.2" text-anchor="end">36</text>
<line x1="88" y1="192.4" x2="95" y2="192.4" stroke="#333" stroke-width="2.2"/>
<text class="ax" x="81.8" y="205.6" text-anchor="end">32</text>
<line x1="88" y1="300.9" x2="95" y2="300.9" stroke="#333" stroke-width="2.2"/>
<text class="ax" x="81.8" y="314.1" text-anchor="end">28</text>
<line x1="88" y1="409.5" x2="95" y2="409.5" stroke="#333" stroke-width="2.2"/>
<text class="ax" x="81.8" y="422.7" text-anchor="end">24</text>
<line x1="144" y1="525.5" x2="144" y2="532.5" stroke="#333" stroke-width="2.2"/>
<text class="ax" x="144" y="564" text-anchor="middle">100</text>
<line x1="269.4" y1="525.5" x2="269.4" y2="532.5" stroke="#333" stroke-width="2.2"/>
<text class="ax" x="269.4" y="564" text-anchor="middle">105</text>
<line x1="395" y1="525.5" x2="395" y2="532.5" stroke="#333" stroke-width="2.2"/>
<text class="ax" x="395" y="564" text-anchor="middle">110</text>
<line x1="521.4" y1="525.5" x2="521.4" y2="532.5" stroke="#333" stroke-width="2.2"/>
<text class="ax" x="521.4" y="564" text-anchor="middle">115</text>
<line x1="647.4" y1="525.5" x2="647.4" y2="532.5" stroke="#333" stroke-width="2.2"/>
<text class="ax" x="647.4" y="564" text-anchor="middle">120</text>
</g>
<text class="let" x="896.8" y="1231.3">F</text>
<text class="ttl" x="1278.1" y="1258.2" text-anchor="middle">Yield loss maximum by heat extreme</text>
<rect x="1620.8" y="1314.7" width="35.4" height="428.1" fill="url(#gF)"/>
<text class="cbt" x="1620.8" y="1282.6">t/ha</text>
<line x1="1620.8" y1="1314.7" x2="1627.88" y2="1314.7" stroke="#fff" stroke-width="1.3"/>
<line x1="1649.12" y1="1314.7" x2="1656.2" y2="1314.7" stroke="#fff" stroke-width="1.3"/>
<text class="cbl" x="1673" y="1324.4">0.0</text>
<line x1="1620.8" y1="1454.2" x2="1627.88" y2="1454.2" stroke="#fff" stroke-width="1.3"/>
<line x1="1649.12" y1="1454.2" x2="1656.2" y2="1454.2" stroke="#fff" stroke-width="1.3"/>
<text class="cbl" x="1673" y="1463.9">-0.1</text>
<line x1="1620.8" y1="1593.5" x2="1627.88" y2="1593.5" stroke="#fff" stroke-width="1.3"/>
<line x1="1649.12" y1="1593.5" x2="1656.2" y2="1593.5" stroke="#fff" stroke-width="1.3"/>
<text class="cbl" x="1673" y="1603.2">-0.2</text>
<line x1="1620.8" y1="1732.8" x2="1627.88" y2="1732.8" stroke="#fff" stroke-width="1.3"/>
<line x1="1649.12" y1="1732.8" x2="1656.2" y2="1732.8" stroke="#fff" stroke-width="1.3"/>
<text class="cbl" x="1673" y="1742.5">-0.3</text>
</svg></body></html>
